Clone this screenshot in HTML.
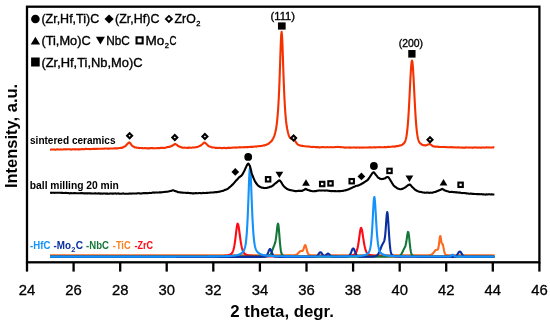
<!DOCTYPE html>
<html><head><meta charset="utf-8"><title>XRD patterns</title>
<style>
html,body{margin:0;padding:0;background:#fff;}
svg{display:block;font-family:"Liberation Sans",sans-serif;}
.c{fill:none;stroke-width:2.1;stroke-linejoin:round;stroke-linecap:butt}
.b{font-weight:bold}
</style></head><body>
<svg width="550" height="327" viewBox="0 0 550 327">
<rect width="550" height="327" fill="#fff"/>
<!-- simulated patterns -->
<path class="c" stroke="#fb6a1e" stroke-width="1.8" d="M50.0,255.3 50.4,255.3 50.8,255.3 51.2,255.3 51.6,255.3 52.0,255.3 52.4,255.3 52.8,255.3 53.2,255.3 53.6,255.3 54.0,255.3 54.4,255.3 54.8,255.3 55.2,255.3 55.6,255.3 56.0,255.3 56.4,255.3 56.8,255.3 57.2,255.3 57.6,255.3 58.0,255.3 58.4,255.3 58.8,255.3 59.2,255.3 59.6,255.3 60.0,255.3 60.4,255.3 60.8,255.3 61.2,255.3 61.6,255.3 62.0,255.3 62.4,255.3 62.8,255.3 63.2,255.3 63.6,255.3 64.0,255.3 64.4,255.3 64.8,255.3 65.2,255.3 65.6,255.3 66.0,255.3 66.4,255.3 66.8,255.3 67.2,255.3 67.6,255.3 68.0,255.3 68.4,255.3 68.8,255.3 69.2,255.3 69.6,255.3 70.0,255.3 70.4,255.3 70.8,255.3 71.2,255.3 71.6,255.3 72.0,255.3 72.4,255.3 72.8,255.3 73.2,255.3 73.6,255.3 74.0,255.3 74.4,255.3 74.8,255.3 75.2,255.3 75.6,255.3 76.0,255.3 76.4,255.3 76.8,255.3 77.2,255.3 77.6,255.3 78.0,255.3 78.4,255.3 78.8,255.3 79.2,255.3 79.6,255.3 80.0,255.3 80.4,255.3 80.8,255.3 81.2,255.3 81.6,255.3 82.0,255.3 82.4,255.3 82.8,255.3 83.2,255.3 83.6,255.3 84.0,255.3 84.4,255.3 84.8,255.3 85.2,255.3 85.6,255.3 86.0,255.3 86.4,255.3 86.8,255.3 87.2,255.3 87.6,255.3 88.0,255.3 88.4,255.3 88.8,255.3 89.2,255.3 89.6,255.3 90.0,255.3 90.4,255.3 90.8,255.3 91.2,255.3 91.6,255.3 92.0,255.3 92.4,255.3 92.8,255.3 93.2,255.3 93.6,255.3 94.0,255.3 94.4,255.3 94.8,255.3 95.2,255.3 95.6,255.3 96.0,255.3 96.4,255.3 96.8,255.3 97.2,255.3 97.6,255.3 98.0,255.3 98.4,255.3 98.8,255.3 99.2,255.3 99.6,255.3 100.0,255.3 100.4,255.3 100.8,255.3 101.2,255.3 101.6,255.3 102.0,255.3 102.4,255.3 102.8,255.3 103.2,255.3 103.6,255.3 104.0,255.3 104.4,255.3 104.8,255.3 105.2,255.3 105.6,255.3 106.0,255.3 106.4,255.3 106.8,255.3 107.2,255.3 107.6,255.3 108.0,255.3 108.4,255.3 108.8,255.3 109.2,255.3 109.6,255.3 110.0,255.3 110.4,255.3 110.8,255.3 111.2,255.3 111.6,255.3 112.0,255.3 112.4,255.3 112.8,255.3 113.2,255.3 113.6,255.3 114.0,255.3 114.4,255.3 114.8,255.3 115.2,255.3 115.6,255.3 116.0,255.3 116.4,255.3 116.8,255.3 117.2,255.3 117.6,255.3 118.0,255.3 118.4,255.3 118.8,255.3 119.2,255.3 119.6,255.3 120.0,255.3 120.4,255.3 120.8,255.3 121.2,255.3 121.6,255.3 122.0,255.3 122.4,255.3 122.8,255.3 123.2,255.3 123.6,255.3 124.0,255.3 124.4,255.3 124.8,255.3 125.2,255.3 125.6,255.3 126.0,255.3 126.4,255.3 126.8,255.3 127.2,255.3 127.6,255.3 128.0,255.3 128.4,255.3 128.8,255.3 129.2,255.3 129.6,255.3 130.0,255.3 130.4,255.3 130.8,255.3 131.2,255.3 131.6,255.3 132.0,255.3 132.4,255.3 132.8,255.3 133.2,255.3 133.6,255.3 134.0,255.3 134.4,255.3 134.8,255.3 135.2,255.3 135.6,255.3 136.0,255.3 136.4,255.3 136.8,255.3 137.2,255.3 137.6,255.3 138.0,255.3 138.4,255.3 138.8,255.3 139.2,255.3 139.6,255.3 140.0,255.3 140.4,255.3 140.8,255.3 141.2,255.3 141.6,255.3 142.0,255.3 142.4,255.3 142.8,255.3 143.2,255.3 143.6,255.3 144.0,255.3 144.4,255.3 144.8,255.3 145.2,255.3 145.6,255.3 146.0,255.3 146.4,255.3 146.8,255.3 147.2,255.3 147.6,255.3 148.0,255.3 148.4,255.3 148.8,255.3 149.2,255.3 149.6,255.3 150.0,255.3 150.4,255.3 150.8,255.3 151.2,255.3 151.6,255.3 152.0,255.3 152.4,255.3 152.8,255.3 153.2,255.3 153.6,255.3 154.0,255.3 154.4,255.3 154.8,255.3 155.2,255.3 155.6,255.3 156.0,255.3 156.4,255.3 156.8,255.3 157.2,255.3 157.6,255.3 158.0,255.3 158.4,255.3 158.8,255.3 159.2,255.3 159.6,255.3 160.0,255.3 160.4,255.3 160.8,255.3 161.2,255.3 161.6,255.3 162.0,255.3 162.4,255.3 162.8,255.3 163.2,255.3 163.6,255.3 164.0,255.3 164.4,255.3 164.8,255.3 165.2,255.3 165.6,255.3 166.0,255.3 166.4,255.3 166.8,255.3 167.2,255.3 167.6,255.3 168.0,255.3 168.4,255.3 168.8,255.3 169.2,255.3 169.6,255.3 170.0,255.3 170.4,255.3 170.8,255.3 171.2,255.3 171.6,255.3 172.0,255.3 172.4,255.3 172.8,255.3 173.2,255.3 173.6,255.3 174.0,255.3 174.4,255.3 174.8,255.3 175.2,255.3 175.6,255.3 176.0,255.3 176.4,255.3 176.8,255.3 177.2,255.3 177.6,255.3 178.0,255.3 178.4,255.3 178.8,255.3 179.2,255.3 179.6,255.3 180.0,255.3 180.4,255.3 180.8,255.3 181.2,255.3 181.6,255.3 182.0,255.3 182.4,255.3 182.8,255.3 183.2,255.3 183.6,255.3 184.0,255.3 184.4,255.3 184.8,255.3 185.2,255.3 185.6,255.3 186.0,255.3 186.4,255.3 186.8,255.3 187.2,255.3 187.6,255.3 188.0,255.3 188.4,255.3 188.8,255.3 189.2,255.3 189.6,255.3 190.0,255.3 190.4,255.3 190.8,255.3 191.2,255.3 191.6,255.3 192.0,255.3 192.4,255.3 192.8,255.3 193.2,255.3 193.6,255.3 194.0,255.3 194.4,255.3 194.8,255.3 195.2,255.3 195.6,255.3 196.0,255.3 196.4,255.3 196.8,255.3 197.2,255.3 197.6,255.3 198.0,255.3 198.4,255.3 198.8,255.3 199.2,255.3 199.6,255.3 200.0,255.3 200.4,255.3 200.8,255.3 201.2,255.3 201.6,255.3 202.0,255.3 202.4,255.3 202.8,255.3 203.2,255.3 203.6,255.3 204.0,255.3 204.4,255.3 204.8,255.3 205.2,255.3 205.6,255.3 206.0,255.3 206.4,255.3 206.8,255.3 207.2,255.3 207.6,255.3 208.0,255.3 208.4,255.3 208.8,255.3 209.2,255.3 209.6,255.3 210.0,255.3 210.4,255.3 210.8,255.3 211.2,255.3 211.6,255.3 212.0,255.3 212.4,255.3 212.8,255.3 213.2,255.3 213.6,255.3 214.0,255.3 214.4,255.3 214.8,255.3 215.2,255.3 215.6,255.3 216.0,255.3 216.4,255.3 216.8,255.3 217.2,255.3 217.6,255.3 218.0,255.3 218.4,255.3 218.8,255.3 219.2,255.3 219.6,255.3 220.0,255.3 220.4,255.3 220.8,255.3 221.2,255.3 221.6,255.3 222.0,255.3 222.4,255.3 222.8,255.3 223.2,255.3 223.6,255.3 224.0,255.3 224.4,255.3 224.8,255.3 225.2,255.3 225.6,255.3 226.0,255.3 226.4,255.3 226.8,255.3 227.2,255.3 227.6,255.3 228.0,255.3 228.4,255.3 228.8,255.3 229.2,255.3 229.6,255.3 230.0,255.3 230.4,255.3 230.8,255.3 231.2,255.3 231.6,255.3 232.0,255.3 232.4,255.3 232.8,255.3 233.2,255.3 233.6,255.3 234.0,255.3 234.4,255.3 234.8,255.3 235.2,255.3 235.6,255.3 236.0,255.3 236.4,255.3 236.8,255.3 237.2,255.3 237.6,255.3 238.0,255.3 238.4,255.3 238.8,255.3 239.2,255.3 239.6,255.3 240.0,255.3 240.4,255.3 240.8,255.3 241.2,255.3 241.6,255.3 242.0,255.3 242.4,255.3 242.8,255.3 243.2,255.3 243.6,255.3 244.0,255.3 244.4,255.3 244.8,255.3 245.2,255.3 245.6,255.3 246.0,255.3 246.4,255.3 246.8,255.3 247.2,255.3 247.6,255.3 248.0,255.3 248.4,255.3 248.8,255.3 249.2,255.3 249.6,255.3 250.0,255.3 250.4,255.3 250.8,255.3 251.2,255.3 251.6,255.3 252.0,255.3 252.4,255.3 252.8,255.3 253.2,255.3 253.6,255.3 254.0,255.3 254.4,255.3 254.8,255.3 255.2,255.3 255.6,255.3 256.0,255.3 256.4,255.3 256.8,255.3 257.2,255.3 257.6,255.3 258.0,255.3 258.4,255.3 258.8,255.3 259.2,255.3 259.6,255.3 260.0,255.3 260.4,255.3 260.8,255.3 261.2,255.3 261.6,255.3 262.0,255.3 262.4,255.3 262.8,255.3 263.2,255.3 263.6,255.3 264.0,255.3 264.4,255.3 264.8,255.3 265.2,255.3 265.6,255.3 266.0,255.3 266.4,255.3 266.8,255.3 267.2,255.3 267.6,255.3 268.0,255.3 268.4,255.3 268.8,255.3 269.2,255.3 269.6,255.3 270.0,255.3 270.4,255.3 270.8,255.3 271.2,255.3 271.6,255.3 272.0,255.3 272.4,255.3 272.8,255.3 273.2,255.3 273.6,255.3 274.0,255.3 274.4,255.3 274.8,255.3 275.2,255.3 275.6,255.3 276.0,255.3 276.4,255.3 276.8,255.3 277.2,255.3 277.6,255.3 278.0,255.3 278.4,255.3 278.8,255.3 279.2,255.3 279.6,255.3 280.0,255.3 280.4,255.3 280.8,255.3 281.2,255.3 281.6,255.3 282.0,255.3 282.4,255.3 282.8,255.3 283.2,255.3 283.6,255.3 284.0,255.3 284.4,255.3 284.8,255.3 285.2,255.3 285.6,255.3 286.0,255.3 286.4,255.3 286.8,255.3 287.2,255.3 287.6,255.3 288.0,255.3 288.4,255.3 288.8,255.3 289.2,255.3 289.6,255.3 290.0,255.3 290.4,255.3 290.8,255.3 291.2,255.3 291.6,255.3 292.0,255.3 292.4,255.3 292.8,255.3 293.2,255.3 293.6,255.2 294.0,255.2 294.4,255.2 294.8,255.1 295.2,255.0 295.6,254.9 296.0,254.8 296.4,254.6 296.8,254.4 297.2,254.1 297.6,253.8 298.0,253.4 298.4,253.0 298.8,252.6 299.2,252.1 299.6,251.7 300.0,251.4 300.4,251.2 300.8,251.0 301.2,250.9 301.6,250.9 302.0,251.0 302.4,251.0 302.8,250.7 303.2,250.0 303.6,249.0 304.0,247.7 304.4,246.3 304.8,245.3 305.2,245.0 305.6,245.6 306.0,246.8 306.4,248.3 306.8,249.9 307.2,251.4 307.6,252.7 308.0,253.6 308.4,254.2 308.8,254.6 309.2,254.8 309.6,255.0 310.0,255.1 310.4,255.1 310.8,255.2 311.2,255.2 311.6,255.2 312.0,255.2 312.4,255.2 312.8,255.2 313.2,255.2 313.6,255.3 314.0,255.3 314.4,255.3 314.8,255.3 315.2,255.3 315.6,255.3 316.0,255.3 316.4,255.3 316.8,255.3 317.2,255.3 317.6,255.3 318.0,255.3 318.4,255.3 318.8,255.3 319.2,255.3 319.6,255.3 320.0,255.3 320.4,255.3 320.8,255.3 321.2,255.3 321.6,255.3 322.0,255.3 322.4,255.3 322.8,255.3 323.2,255.3 323.6,255.3 324.0,255.3 324.4,255.3 324.8,255.3 325.2,255.3 325.6,255.3 326.0,255.3 326.4,255.3 326.8,255.3 327.2,255.3 327.6,255.3 328.0,255.3 328.4,255.3 328.8,255.3 329.2,255.3 329.6,255.3 330.0,255.3 330.4,255.3 330.8,255.3 331.2,255.3 331.6,255.3 332.0,255.3 332.4,255.3 332.8,255.3 333.2,255.3 333.6,255.3 334.0,255.3 334.4,255.3 334.8,255.3 335.2,255.3 335.6,255.3 336.0,255.3 336.4,255.3 336.8,255.3 337.2,255.3 337.6,255.3 338.0,255.3 338.4,255.3 338.8,255.3 339.2,255.3 339.6,255.3 340.0,255.3 340.4,255.3 340.8,255.3 341.2,255.3 341.6,255.3 342.0,255.3 342.4,255.3 342.8,255.3 343.2,255.3 343.6,255.3 344.0,255.3 344.4,255.3 344.8,255.3 345.2,255.3 345.6,255.3 346.0,255.3 346.4,255.3 346.8,255.3 347.2,255.3 347.6,255.3 348.0,255.3 348.4,255.3 348.8,255.3 349.2,255.3 349.6,255.3 350.0,255.3 350.4,255.3 350.8,255.3 351.2,255.3 351.6,255.3 352.0,255.3 352.4,255.3 352.8,255.3 353.2,255.3 353.6,255.3 354.0,255.3 354.4,255.3 354.8,255.3 355.2,255.3 355.6,255.3 356.0,255.3 356.4,255.3 356.8,255.3 357.2,255.3 357.6,255.3 358.0,255.3 358.4,255.3 358.8,255.3 359.2,255.3 359.6,255.3 360.0,255.3 360.4,255.3 360.8,255.3 361.2,255.3 361.6,255.3 362.0,255.3 362.4,255.3 362.8,255.3 363.2,255.3 363.6,255.3 364.0,255.3 364.4,255.3 364.8,255.3 365.2,255.3 365.6,255.3 366.0,255.3 366.4,255.3 366.8,255.3 367.2,255.3 367.6,255.3 368.0,255.3 368.4,255.3 368.8,255.3 369.2,255.3 369.6,255.3 370.0,255.3 370.4,255.3 370.8,255.3 371.2,255.3 371.6,255.3 372.0,255.3 372.4,255.3 372.8,255.3 373.2,255.3 373.6,255.3 374.0,255.3 374.4,255.3 374.8,255.3 375.2,255.3 375.6,255.3 376.0,255.3 376.4,255.3 376.8,255.3 377.2,255.3 377.6,255.3 378.0,255.3 378.4,255.3 378.8,255.3 379.2,255.3 379.6,255.3 380.0,255.3 380.4,255.3 380.8,255.3 381.2,255.3 381.6,255.3 382.0,255.3 382.4,255.3 382.8,255.3 383.2,255.3 383.6,255.3 384.0,255.3 384.4,255.3 384.8,255.3 385.2,255.3 385.6,255.3 386.0,255.3 386.4,255.3 386.8,255.3 387.2,255.3 387.6,255.3 388.0,255.3 388.4,255.3 388.8,255.3 389.2,255.3 389.6,255.3 390.0,255.3 390.4,255.3 390.8,255.3 391.2,255.3 391.6,255.3 392.0,255.3 392.4,255.3 392.8,255.3 393.2,255.3 393.6,255.3 394.0,255.3 394.4,255.3 394.8,255.3 395.2,255.3 395.6,255.3 396.0,255.3 396.4,255.3 396.8,255.3 397.2,255.3 397.6,255.3 398.0,255.3 398.4,255.3 398.8,255.3 399.2,255.3 399.6,255.3 400.0,255.3 400.4,255.3 400.8,255.3 401.2,255.3 401.6,255.3 402.0,255.3 402.4,255.3 402.8,255.3 403.2,255.3 403.6,255.3 404.0,255.3 404.4,255.3 404.8,255.3 405.2,255.3 405.6,255.3 406.0,255.3 406.4,255.3 406.8,255.3 407.2,255.3 407.6,255.3 408.0,255.3 408.4,255.3 408.8,255.3 409.2,255.3 409.6,255.3 410.0,255.3 410.4,255.3 410.8,255.3 411.2,255.3 411.6,255.3 412.0,255.3 412.4,255.3 412.8,255.3 413.2,255.3 413.6,255.3 414.0,255.3 414.4,255.3 414.8,255.3 415.2,255.3 415.6,255.3 416.0,255.3 416.4,255.3 416.8,255.3 417.2,255.3 417.6,255.3 418.0,255.3 418.4,255.3 418.8,255.3 419.2,255.3 419.6,255.3 420.0,255.3 420.4,255.3 420.8,255.3 421.2,255.3 421.6,255.3 422.0,255.3 422.4,255.3 422.8,255.3 423.2,255.3 423.6,255.3 424.0,255.3 424.4,255.3 424.8,255.3 425.2,255.3 425.6,255.3 426.0,255.3 426.4,255.3 426.8,255.3 427.2,255.3 427.6,255.3 428.0,255.2 428.4,255.2 428.8,255.2 429.2,255.2 429.6,255.1 430.0,255.1 430.4,255.0 430.8,254.9 431.2,254.7 431.6,254.5 432.0,254.3 432.4,253.9 432.8,253.6 433.2,253.1 433.6,252.6 434.0,252.1 434.4,251.6 434.8,251.1 435.2,250.6 435.6,250.2 436.0,249.9 436.4,249.8 436.8,249.7 437.2,249.8 437.6,249.7 438.0,249.2 438.4,247.9 438.8,245.6 439.2,242.4 439.6,239.0 440.0,236.5 440.4,236.0 440.8,237.8 441.2,240.6 441.6,242.9 442.0,243.7 442.4,243.8 442.8,244.5 443.2,246.1 443.6,248.1 444.0,250.3 444.4,252.1 444.8,253.4 445.2,254.3 445.6,254.7 446.0,254.9 446.4,255.1 446.8,255.1 447.2,255.1 447.6,255.2 448.0,255.2 448.4,255.2 448.8,255.2 449.2,255.2 449.6,255.2 450.0,255.3 450.4,255.3 450.8,255.3 451.2,255.3 451.6,255.3 452.0,255.3 452.4,255.3 452.8,255.3 453.2,255.3 453.6,255.3 454.0,255.3 454.4,255.3 454.8,255.3 455.2,255.3 455.6,255.3 456.0,255.3 456.4,255.3 456.8,255.3 457.2,255.3 457.6,255.3 458.0,255.3 458.4,255.3 458.8,255.3 459.2,255.3 459.6,255.3 460.0,255.3 460.4,255.3 460.8,255.3 461.2,255.3 461.6,255.3 462.0,255.3 462.4,255.3 462.8,255.3 463.2,255.3 463.6,255.3 464.0,255.3 464.4,255.3 464.8,255.3 465.2,255.3 465.6,255.3 466.0,255.3 466.4,255.3 466.8,255.3 467.2,255.3 467.6,255.3 468.0,255.3 468.4,255.3 468.8,255.3 469.2,255.3 469.6,255.3 470.0,255.3 470.4,255.3 470.8,255.3 471.2,255.3 471.6,255.3 472.0,255.3 472.4,255.3 472.8,255.3 473.2,255.3 473.6,255.3 474.0,255.3 474.4,255.3 474.8,255.3 475.2,255.3 475.6,255.3 476.0,255.3 476.4,255.3 476.8,255.3 477.2,255.3 477.6,255.3 478.0,255.3 478.4,255.3 478.8,255.3 479.2,255.3 479.6,255.3 480.0,255.3 480.4,255.3 480.8,255.3 481.2,255.3 481.6,255.3 482.0,255.3 482.4,255.3 482.8,255.3 483.2,255.3 483.6,255.3 484.0,255.3 484.4,255.3 484.8,255.3 485.2,255.3 485.6,255.3 486.0,255.3 486.4,255.3 486.8,255.3 487.2,255.3 487.6,255.3 488.0,255.3 488.4,255.3 488.8,255.3 489.2,255.3 489.6,255.3 490.0,255.3 490.4,255.3 490.8,255.3 491.2,255.3 491.6,255.3 492.0,255.3 492.4,255.3 492.8,255.3 493.2,255.3 493.6,255.3 494.0,255.3 494.4,255.3"/>
<path class="c" stroke="#ff0a14" d="M50.0,256.6 50.4,256.6 50.8,256.6 51.2,256.6 51.6,256.6 52.0,256.6 52.4,256.6 52.8,256.6 53.2,256.6 53.6,256.6 54.0,256.6 54.4,256.6 54.8,256.6 55.2,256.6 55.6,256.6 56.0,256.6 56.4,256.6 56.8,256.6 57.2,256.6 57.6,256.6 58.0,256.6 58.4,256.6 58.8,256.6 59.2,256.6 59.6,256.6 60.0,256.6 60.4,256.6 60.8,256.6 61.2,256.6 61.6,256.6 62.0,256.6 62.4,256.6 62.8,256.6 63.2,256.6 63.6,256.6 64.0,256.6 64.4,256.6 64.8,256.6 65.2,256.6 65.6,256.6 66.0,256.6 66.4,256.6 66.8,256.6 67.2,256.6 67.6,256.6 68.0,256.6 68.4,256.6 68.8,256.6 69.2,256.6 69.6,256.6 70.0,256.6 70.4,256.6 70.8,256.6 71.2,256.6 71.6,256.6 72.0,256.6 72.4,256.6 72.8,256.6 73.2,256.6 73.6,256.6 74.0,256.6 74.4,256.6 74.8,256.6 75.2,256.6 75.6,256.6 76.0,256.6 76.4,256.6 76.8,256.6 77.2,256.6 77.6,256.6 78.0,256.6 78.4,256.6 78.8,256.6 79.2,256.6 79.6,256.6 80.0,256.6 80.4,256.6 80.8,256.6 81.2,256.6 81.6,256.6 82.0,256.6 82.4,256.6 82.8,256.6 83.2,256.6 83.6,256.6 84.0,256.6 84.4,256.6 84.8,256.6 85.2,256.6 85.6,256.6 86.0,256.6 86.4,256.6 86.8,256.6 87.2,256.6 87.6,256.6 88.0,256.6 88.4,256.6 88.8,256.6 89.2,256.6 89.6,256.6 90.0,256.6 90.4,256.6 90.8,256.6 91.2,256.6 91.6,256.6 92.0,256.6 92.4,256.6 92.8,256.6 93.2,256.6 93.6,256.6 94.0,256.6 94.4,256.6 94.8,256.6 95.2,256.6 95.6,256.6 96.0,256.6 96.4,256.6 96.8,256.6 97.2,256.6 97.6,256.6 98.0,256.6 98.4,256.6 98.8,256.6 99.2,256.6 99.6,256.6 100.0,256.6 100.4,256.6 100.8,256.6 101.2,256.6 101.6,256.6 102.0,256.6 102.4,256.6 102.8,256.6 103.2,256.6 103.6,256.6 104.0,256.6 104.4,256.6 104.8,256.6 105.2,256.6 105.6,256.6 106.0,256.6 106.4,256.6 106.8,256.6 107.2,256.6 107.6,256.6 108.0,256.6 108.4,256.6 108.8,256.6 109.2,256.6 109.6,256.6 110.0,256.6 110.4,256.6 110.8,256.6 111.2,256.6 111.6,256.6 112.0,256.6 112.4,256.6 112.8,256.6 113.2,256.6 113.6,256.6 114.0,256.6 114.4,256.6 114.8,256.6 115.2,256.6 115.6,256.6 116.0,256.6 116.4,256.6 116.8,256.6 117.2,256.6 117.6,256.6 118.0,256.6 118.4,256.6 118.8,256.6 119.2,256.6 119.6,256.6 120.0,256.6 120.4,256.6 120.8,256.6 121.2,256.6 121.6,256.6 122.0,256.6 122.4,256.6 122.8,256.6 123.2,256.6 123.6,256.6 124.0,256.6 124.4,256.6 124.8,256.6 125.2,256.6 125.6,256.6 126.0,256.6 126.4,256.6 126.8,256.6 127.2,256.6 127.6,256.6 128.0,256.6 128.4,256.6 128.8,256.6 129.2,256.6 129.6,256.6 130.0,256.6 130.4,256.6 130.8,256.6 131.2,256.6 131.6,256.6 132.0,256.6 132.4,256.6 132.8,256.6 133.2,256.6 133.6,256.6 134.0,256.6 134.4,256.6 134.8,256.6 135.2,256.6 135.6,256.6 136.0,256.6 136.4,256.6 136.8,256.6 137.2,256.6 137.6,256.6 138.0,256.6 138.4,256.6 138.8,256.6 139.2,256.6 139.6,256.6 140.0,256.6 140.4,256.6 140.8,256.6 141.2,256.6 141.6,256.6 142.0,256.6 142.4,256.6 142.8,256.6 143.2,256.6 143.6,256.6 144.0,256.6 144.4,256.6 144.8,256.6 145.2,256.6 145.6,256.6 146.0,256.6 146.4,256.6 146.8,256.6 147.2,256.6 147.6,256.6 148.0,256.6 148.4,256.6 148.8,256.6 149.2,256.6 149.6,256.6 150.0,256.6 150.4,256.6 150.8,256.6 151.2,256.6 151.6,256.6 152.0,256.6 152.4,256.6 152.8,256.6 153.2,256.6 153.6,256.6 154.0,256.6 154.4,256.6 154.8,256.6 155.2,256.6 155.6,256.6 156.0,256.6 156.4,256.6 156.8,256.6 157.2,256.6 157.6,256.6 158.0,256.6 158.4,256.6 158.8,256.6 159.2,256.6 159.6,256.6 160.0,256.6 160.4,256.6 160.8,256.6 161.2,256.6 161.6,256.6 162.0,256.6 162.4,256.6 162.8,256.6 163.2,256.6 163.6,256.6 164.0,256.6 164.4,256.6 164.8,256.6 165.2,256.6 165.6,256.6 166.0,256.6 166.4,256.6 166.8,256.6 167.2,256.6 167.6,256.6 168.0,256.6 168.4,256.6 168.8,256.6 169.2,256.6 169.6,256.6 170.0,256.6 170.4,256.6 170.8,256.6 171.2,256.6 171.6,256.6 172.0,256.6 172.4,256.6 172.8,256.6 173.2,256.6 173.6,256.6 174.0,256.6 174.4,256.6 174.8,256.6 175.2,256.6 175.6,256.6 176.0,256.6 176.4,256.6 176.8,256.6 177.2,256.6 177.6,256.6 178.0,256.6 178.4,256.6 178.8,256.6 179.2,256.6 179.6,256.6 180.0,256.6 180.4,256.6 180.8,256.6 181.2,256.6 181.6,256.6 182.0,256.6 182.4,256.6 182.8,256.6 183.2,256.6 183.6,256.6 184.0,256.6 184.4,256.6 184.8,256.6 185.2,256.6 185.6,256.6 186.0,256.6 186.4,256.5 186.8,256.5 187.2,256.5 187.6,256.5 188.0,256.5 188.4,256.5 188.8,256.5 189.2,256.5 189.6,256.5 190.0,256.5 190.4,256.5 190.8,256.5 191.2,256.5 191.6,256.5 192.0,256.5 192.4,256.5 192.8,256.5 193.2,256.5 193.6,256.5 194.0,256.5 194.4,256.5 194.8,256.5 195.2,256.5 195.6,256.5 196.0,256.5 196.4,256.5 196.8,256.5 197.2,256.5 197.6,256.5 198.0,256.5 198.4,256.5 198.8,256.5 199.2,256.5 199.6,256.5 200.0,256.5 200.4,256.5 200.8,256.5 201.2,256.5 201.6,256.5 202.0,256.5 202.4,256.5 202.8,256.5 203.2,256.5 203.6,256.5 204.0,256.5 204.4,256.5 204.8,256.5 205.2,256.5 205.6,256.5 206.0,256.5 206.4,256.5 206.8,256.5 207.2,256.5 207.6,256.5 208.0,256.5 208.4,256.5 208.8,256.4 209.2,256.4 209.6,256.4 210.0,256.4 210.4,256.4 210.8,256.4 211.2,256.4 211.6,256.4 212.0,256.4 212.4,256.4 212.8,256.4 213.2,256.4 213.6,256.4 214.0,256.4 214.4,256.4 214.8,256.4 215.2,256.4 215.6,256.3 216.0,256.3 216.4,256.3 216.8,256.3 217.2,256.3 217.6,256.3 218.0,256.3 218.4,256.3 218.8,256.3 219.2,256.2 219.6,256.2 220.0,256.2 220.4,256.2 220.8,256.2 221.2,256.2 221.6,256.1 222.0,256.1 222.4,256.1 222.8,256.1 223.2,256.0 223.6,256.0 224.0,256.0 224.4,255.9 224.8,255.9 225.2,255.8 225.6,255.8 226.0,255.7 226.4,255.7 226.8,255.6 227.2,255.5 227.6,255.5 228.0,255.4 228.4,255.3 228.8,255.1 229.2,255.0 229.6,254.9 230.0,254.7 230.4,254.5 230.8,254.2 231.2,253.9 231.6,253.5 232.0,253.0 232.4,252.4 232.8,251.6 233.2,250.5 233.6,249.2 234.0,247.5 234.4,245.4 234.8,243.0 235.2,240.1 235.6,236.9 236.0,233.5 236.4,230.1 236.8,227.1 237.2,224.8 237.6,223.7 238.0,224.0 238.4,225.4 238.8,227.6 239.2,230.4 239.6,233.5 240.0,236.5 240.4,239.4 240.8,242.1 241.2,244.4 241.6,246.4 242.0,248.1 242.4,249.5 242.8,250.7 243.2,251.6 243.6,252.4 244.0,252.9 244.4,253.4 244.8,253.8 245.2,254.1 245.6,254.3 246.0,254.5 246.4,254.7 246.8,254.9 247.2,255.0 247.6,255.1 248.0,255.2 248.4,255.3 248.8,255.4 249.2,255.5 249.6,255.6 250.0,255.6 250.4,255.7 250.8,255.7 251.2,255.8 251.6,255.8 252.0,255.9 252.4,255.9 252.8,255.9 253.2,256.0 253.6,256.0 254.0,256.0 254.4,256.1 254.8,256.1 255.2,256.1 255.6,256.1 256.0,256.1 256.4,256.2 256.8,256.2 257.2,256.2 257.6,256.2 258.0,256.2 258.4,256.2 258.8,256.2 259.2,256.3 259.6,256.3 260.0,256.3 260.4,256.3 260.8,256.3 261.2,256.3 261.6,256.3 262.0,256.3 262.4,256.3 262.8,256.3 263.2,256.4 263.6,256.4 264.0,256.4 264.4,256.4 264.8,256.4 265.2,256.4 265.6,256.4 266.0,256.4 266.4,256.4 266.8,256.4 267.2,256.4 267.6,256.4 268.0,256.4 268.4,256.4 268.8,256.4 269.2,256.4 269.6,256.4 270.0,256.4 270.4,256.4 270.8,256.4 271.2,256.4 271.6,256.5 272.0,256.5 272.4,256.5 272.8,256.5 273.2,256.5 273.6,256.5 274.0,256.5 274.4,256.5 274.8,256.5 275.2,256.5 275.6,256.5 276.0,256.5 276.4,256.5 276.8,256.5 277.2,256.5 277.6,256.5 278.0,256.5 278.4,256.5 278.8,256.5 279.2,256.5 279.6,256.5 280.0,256.5 280.4,256.5 280.8,256.5 281.2,256.5 281.6,256.5 282.0,256.5 282.4,256.5 282.8,256.5 283.2,256.5 283.6,256.5 284.0,256.5 284.4,256.5 284.8,256.5 285.2,256.5 285.6,256.5 286.0,256.5 286.4,256.5 286.8,256.5 287.2,256.5 287.6,256.5 288.0,256.5 288.4,256.5 288.8,256.5 289.2,256.5 289.6,256.5 290.0,256.5 290.4,256.5 290.8,256.5 291.2,256.5 291.6,256.5 292.0,256.5 292.4,256.5 292.8,256.5 293.2,256.5 293.6,256.5 294.0,256.5 294.4,256.5 294.8,256.5 295.2,256.5 295.6,256.5 296.0,256.5 296.4,256.5 296.8,256.5 297.2,256.5 297.6,256.5 298.0,256.5 298.4,256.5 298.8,256.5 299.2,256.5 299.6,256.5 300.0,256.5 300.4,256.5 300.8,256.5 301.2,256.5 301.6,256.5 302.0,256.5 302.4,256.5 302.8,256.5 303.2,256.5 303.6,256.5 304.0,256.5 304.4,256.5 304.8,256.5 305.2,256.5 305.6,256.5 306.0,256.5 306.4,256.5 306.8,256.5 307.2,256.5 307.6,256.5 308.0,256.5 308.4,256.5 308.8,256.5 309.2,256.5 309.6,256.5 310.0,256.5 310.4,256.5 310.8,256.5 311.2,256.5 311.6,256.5 312.0,256.5 312.4,256.5 312.8,256.5 313.2,256.5 313.6,256.5 314.0,256.5 314.4,256.5 314.8,256.5 315.2,256.5 315.6,256.5 316.0,256.5 316.4,256.5 316.8,256.5 317.2,256.5 317.6,256.5 318.0,256.5 318.4,256.5 318.8,256.5 319.2,256.5 319.6,256.5 320.0,256.5 320.4,256.5 320.8,256.5 321.2,256.5 321.6,256.5 322.0,256.5 322.4,256.5 322.8,256.5 323.2,256.5 323.6,256.5 324.0,256.5 324.4,256.5 324.8,256.5 325.2,256.5 325.6,256.5 326.0,256.5 326.4,256.5 326.8,256.5 327.2,256.5 327.6,256.5 328.0,256.5 328.4,256.5 328.8,256.5 329.2,256.5 329.6,256.5 330.0,256.5 330.4,256.5 330.8,256.5 331.2,256.5 331.6,256.5 332.0,256.5 332.4,256.5 332.8,256.4 333.2,256.4 333.6,256.4 334.0,256.4 334.4,256.4 334.8,256.4 335.2,256.4 335.6,256.4 336.0,256.4 336.4,256.4 336.8,256.4 337.2,256.4 337.6,256.4 338.0,256.4 338.4,256.4 338.8,256.4 339.2,256.4 339.6,256.4 340.0,256.3 340.4,256.3 340.8,256.3 341.2,256.3 341.6,256.3 342.0,256.3 342.4,256.3 342.8,256.3 343.2,256.3 343.6,256.2 344.0,256.2 344.4,256.2 344.8,256.2 345.2,256.2 345.6,256.1 346.0,256.1 346.4,256.1 346.8,256.1 347.2,256.0 347.6,256.0 348.0,256.0 348.4,255.9 348.8,255.9 349.2,255.9 349.6,255.8 350.0,255.8 350.4,255.7 350.8,255.6 351.2,255.6 351.6,255.5 352.0,255.4 352.4,255.3 352.8,255.1 353.2,255.0 353.6,254.8 354.0,254.6 354.4,254.4 354.8,254.1 355.2,253.7 355.6,253.2 356.0,252.6 356.4,251.8 356.8,250.8 357.2,249.4 357.6,247.8 358.0,245.8 358.4,243.5 358.8,240.9 359.2,238.0 359.6,235.0 360.0,232.1 360.4,229.7 360.8,228.2 361.2,227.9 361.6,228.7 362.0,230.3 362.4,232.5 362.8,235.1 363.2,237.8 363.6,240.4 364.0,242.8 364.4,245.0 364.8,246.9 365.2,248.5 365.6,249.9 366.0,251.0 366.4,251.9 366.8,252.6 367.2,253.2 367.6,253.6 368.0,254.0 368.4,254.3 368.8,254.5 369.2,254.7 369.6,254.9 370.0,255.0 370.4,255.2 370.8,255.3 371.2,255.4 371.6,255.4 372.0,255.5 372.4,255.6 372.8,255.7 373.2,255.7 373.6,255.8 374.0,255.8 374.4,255.9 374.8,255.9 375.2,255.9 375.6,256.0 376.0,256.0 376.4,256.0 376.8,256.1 377.2,256.1 377.6,256.1 378.0,256.1 378.4,256.2 378.8,256.2 379.2,256.2 379.6,256.2 380.0,256.2 380.4,256.2 380.8,256.3 381.2,256.3 381.6,256.3 382.0,256.3 382.4,256.3 382.8,256.3 383.2,256.3 383.6,256.3 384.0,256.3 384.4,256.3 384.8,256.4 385.2,256.4 385.6,256.4 386.0,256.4 386.4,256.4 386.8,256.4 387.2,256.4 387.6,256.4 388.0,256.4 388.4,256.4 388.8,256.4 389.2,256.4 389.6,256.4 390.0,256.4 390.4,256.4 390.8,256.4 391.2,256.4 391.6,256.4 392.0,256.5 392.4,256.5 392.8,256.5 393.2,256.5 393.6,256.5 394.0,256.5 394.4,256.5 394.8,256.5 395.2,256.5 395.6,256.5 396.0,256.5 396.4,256.5 396.8,256.5 397.2,256.5 397.6,256.5 398.0,256.5 398.4,256.5 398.8,256.5 399.2,256.5 399.6,256.5 400.0,256.5 400.4,256.5 400.8,256.5 401.2,256.5 401.6,256.5 402.0,256.5 402.4,256.5 402.8,256.5 403.2,256.5 403.6,256.5 404.0,256.5 404.4,256.5 404.8,256.5 405.2,256.5 405.6,256.5 406.0,256.5 406.4,256.5 406.8,256.5 407.2,256.5 407.6,256.5 408.0,256.5 408.4,256.5 408.8,256.5 409.2,256.5 409.6,256.5 410.0,256.5 410.4,256.5 410.8,256.5 411.2,256.5 411.6,256.5 412.0,256.5 412.4,256.5 412.8,256.5 413.2,256.5 413.6,256.5 414.0,256.5 414.4,256.5 414.8,256.5 415.2,256.5 415.6,256.5 416.0,256.6 416.4,256.6 416.8,256.6 417.2,256.6 417.6,256.6 418.0,256.6 418.4,256.6 418.8,256.6 419.2,256.6 419.6,256.6 420.0,256.6 420.4,256.6 420.8,256.6 421.2,256.6 421.6,256.6 422.0,256.6 422.4,256.6 422.8,256.6 423.2,256.6 423.6,256.6 424.0,256.6 424.4,256.6 424.8,256.6 425.2,256.6 425.6,256.6 426.0,256.6 426.4,256.6 426.8,256.6 427.2,256.6 427.6,256.6 428.0,256.6 428.4,256.6 428.8,256.6 429.2,256.6 429.6,256.6 430.0,256.6 430.4,256.6 430.8,256.6 431.2,256.6 431.6,256.6 432.0,256.6 432.4,256.6 432.8,256.6 433.2,256.6 433.6,256.6 434.0,256.6 434.4,256.6 434.8,256.6 435.2,256.6 435.6,256.6 436.0,256.6 436.4,256.6 436.8,256.6 437.2,256.6 437.6,256.6 438.0,256.6 438.4,256.6 438.8,256.6 439.2,256.6 439.6,256.6 440.0,256.6 440.4,256.6 440.8,256.6 441.2,256.6 441.6,256.6 442.0,256.6 442.4,256.6 442.8,256.6 443.2,256.6 443.6,256.6 444.0,256.6 444.4,256.6 444.8,256.6 445.2,256.6 445.6,256.6 446.0,256.6 446.4,256.6 446.8,256.6 447.2,256.6 447.6,256.6 448.0,256.6 448.4,256.6 448.8,256.6 449.2,256.6 449.6,256.6 450.0,256.6 450.4,256.6 450.8,256.6 451.2,256.6 451.6,256.6 452.0,256.6 452.4,256.6 452.8,256.6 453.2,256.6 453.6,256.6 454.0,256.6 454.4,256.6 454.8,256.6 455.2,256.6 455.6,256.6 456.0,256.6 456.4,256.6 456.8,256.6 457.2,256.6 457.6,256.6 458.0,256.6 458.4,256.6 458.8,256.6 459.2,256.6 459.6,256.6 460.0,256.6 460.4,256.6 460.8,256.6 461.2,256.6 461.6,256.6 462.0,256.6 462.4,256.6 462.8,256.6 463.2,256.6 463.6,256.6 464.0,256.6 464.4,256.6 464.8,256.6 465.2,256.6 465.6,256.6 466.0,256.6 466.4,256.6 466.8,256.6 467.2,256.6 467.6,256.6 468.0,256.6 468.4,256.6 468.8,256.6 469.2,256.6 469.6,256.6 470.0,256.6 470.4,256.6 470.8,256.6 471.2,256.6 471.6,256.6 472.0,256.6 472.4,256.6 472.8,256.6 473.2,256.6 473.6,256.6 474.0,256.6 474.4,256.6 474.8,256.6 475.2,256.6 475.6,256.6 476.0,256.6 476.4,256.6 476.8,256.6 477.2,256.6 477.6,256.6 478.0,256.6 478.4,256.6 478.8,256.6 479.2,256.6 479.6,256.6 480.0,256.6 480.4,256.6 480.8,256.6 481.2,256.6 481.6,256.6 482.0,256.6 482.4,256.6 482.8,256.6 483.2,256.6 483.6,256.6 484.0,256.6 484.4,256.6 484.8,256.6 485.2,256.6 485.6,256.6 486.0,256.6 486.4,256.6 486.8,256.6 487.2,256.6 487.6,256.6 488.0,256.6 488.4,256.6 488.8,256.6 489.2,256.6 489.6,256.6 490.0,256.6 490.4,256.6 490.8,256.6 491.2,256.6 491.6,256.6 492.0,256.6 492.4,256.6 492.8,256.6 493.2,256.6 493.6,256.6 494.0,256.6 494.4,256.6"/>
<path class="c" stroke="#16763a" d="M50.0,256.6 50.4,256.6 50.8,256.6 51.2,256.6 51.6,256.6 52.0,256.6 52.4,256.6 52.8,256.6 53.2,256.6 53.6,256.6 54.0,256.6 54.4,256.6 54.8,256.6 55.2,256.6 55.6,256.6 56.0,256.6 56.4,256.6 56.8,256.6 57.2,256.6 57.6,256.6 58.0,256.6 58.4,256.6 58.8,256.6 59.2,256.6 59.6,256.6 60.0,256.6 60.4,256.6 60.8,256.6 61.2,256.6 61.6,256.6 62.0,256.6 62.4,256.6 62.8,256.6 63.2,256.6 63.6,256.6 64.0,256.6 64.4,256.6 64.8,256.6 65.2,256.6 65.6,256.6 66.0,256.6 66.4,256.6 66.8,256.6 67.2,256.6 67.6,256.6 68.0,256.6 68.4,256.6 68.8,256.6 69.2,256.6 69.6,256.6 70.0,256.6 70.4,256.6 70.8,256.6 71.2,256.6 71.6,256.6 72.0,256.6 72.4,256.6 72.8,256.6 73.2,256.6 73.6,256.6 74.0,256.6 74.4,256.6 74.8,256.6 75.2,256.6 75.6,256.6 76.0,256.6 76.4,256.6 76.8,256.6 77.2,256.6 77.6,256.6 78.0,256.6 78.4,256.6 78.8,256.6 79.2,256.6 79.6,256.6 80.0,256.6 80.4,256.6 80.8,256.6 81.2,256.6 81.6,256.6 82.0,256.6 82.4,256.6 82.8,256.6 83.2,256.6 83.6,256.6 84.0,256.6 84.4,256.6 84.8,256.6 85.2,256.6 85.6,256.6 86.0,256.6 86.4,256.6 86.8,256.6 87.2,256.6 87.6,256.6 88.0,256.6 88.4,256.6 88.8,256.6 89.2,256.6 89.6,256.6 90.0,256.6 90.4,256.6 90.8,256.6 91.2,256.6 91.6,256.6 92.0,256.6 92.4,256.6 92.8,256.6 93.2,256.6 93.6,256.6 94.0,256.6 94.4,256.6 94.8,256.6 95.2,256.6 95.6,256.6 96.0,256.6 96.4,256.6 96.8,256.6 97.2,256.6 97.6,256.6 98.0,256.6 98.4,256.6 98.8,256.6 99.2,256.6 99.6,256.6 100.0,256.6 100.4,256.6 100.8,256.6 101.2,256.6 101.6,256.6 102.0,256.6 102.4,256.6 102.8,256.6 103.2,256.6 103.6,256.6 104.0,256.6 104.4,256.6 104.8,256.6 105.2,256.6 105.6,256.6 106.0,256.6 106.4,256.6 106.8,256.6 107.2,256.6 107.6,256.6 108.0,256.6 108.4,256.6 108.8,256.6 109.2,256.6 109.6,256.6 110.0,256.6 110.4,256.6 110.8,256.6 111.2,256.6 111.6,256.6 112.0,256.6 112.4,256.6 112.8,256.6 113.2,256.6 113.6,256.6 114.0,256.6 114.4,256.6 114.8,256.6 115.2,256.6 115.6,256.6 116.0,256.6 116.4,256.6 116.8,256.6 117.2,256.6 117.6,256.6 118.0,256.6 118.4,256.6 118.8,256.6 119.2,256.6 119.6,256.6 120.0,256.6 120.4,256.6 120.8,256.6 121.2,256.6 121.6,256.6 122.0,256.6 122.4,256.6 122.8,256.6 123.2,256.6 123.6,256.6 124.0,256.6 124.4,256.6 124.8,256.6 125.2,256.6 125.6,256.6 126.0,256.6 126.4,256.6 126.8,256.6 127.2,256.6 127.6,256.6 128.0,256.6 128.4,256.6 128.8,256.6 129.2,256.6 129.6,256.6 130.0,256.6 130.4,256.6 130.8,256.6 131.2,256.6 131.6,256.6 132.0,256.6 132.4,256.6 132.8,256.6 133.2,256.6 133.6,256.6 134.0,256.6 134.4,256.6 134.8,256.6 135.2,256.6 135.6,256.6 136.0,256.6 136.4,256.6 136.8,256.6 137.2,256.6 137.6,256.6 138.0,256.6 138.4,256.6 138.8,256.6 139.2,256.6 139.6,256.6 140.0,256.6 140.4,256.6 140.8,256.6 141.2,256.6 141.6,256.6 142.0,256.6 142.4,256.6 142.8,256.6 143.2,256.6 143.6,256.6 144.0,256.6 144.4,256.6 144.8,256.6 145.2,256.6 145.6,256.6 146.0,256.6 146.4,256.6 146.8,256.6 147.2,256.6 147.6,256.6 148.0,256.6 148.4,256.6 148.8,256.6 149.2,256.6 149.6,256.6 150.0,256.6 150.4,256.6 150.8,256.6 151.2,256.6 151.6,256.6 152.0,256.6 152.4,256.6 152.8,256.6 153.2,256.6 153.6,256.6 154.0,256.6 154.4,256.6 154.8,256.6 155.2,256.6 155.6,256.6 156.0,256.6 156.4,256.6 156.8,256.6 157.2,256.6 157.6,256.6 158.0,256.6 158.4,256.6 158.8,256.6 159.2,256.6 159.6,256.6 160.0,256.6 160.4,256.6 160.8,256.6 161.2,256.6 161.6,256.6 162.0,256.6 162.4,256.6 162.8,256.6 163.2,256.6 163.6,256.6 164.0,256.6 164.4,256.6 164.8,256.6 165.2,256.6 165.6,256.6 166.0,256.6 166.4,256.6 166.8,256.6 167.2,256.6 167.6,256.6 168.0,256.6 168.4,256.6 168.8,256.6 169.2,256.6 169.6,256.6 170.0,256.6 170.4,256.6 170.8,256.6 171.2,256.6 171.6,256.6 172.0,256.6 172.4,256.6 172.8,256.6 173.2,256.6 173.6,256.6 174.0,256.6 174.4,256.6 174.8,256.6 175.2,256.6 175.6,256.6 176.0,256.6 176.4,256.6 176.8,256.6 177.2,256.6 177.6,256.6 178.0,256.6 178.4,256.6 178.8,256.6 179.2,256.6 179.6,256.6 180.0,256.6 180.4,256.6 180.8,256.6 181.2,256.6 181.6,256.6 182.0,256.6 182.4,256.6 182.8,256.6 183.2,256.6 183.6,256.6 184.0,256.6 184.4,256.6 184.8,256.6 185.2,256.6 185.6,256.6 186.0,256.6 186.4,256.6 186.8,256.6 187.2,256.6 187.6,256.6 188.0,256.6 188.4,256.6 188.8,256.6 189.2,256.6 189.6,256.6 190.0,256.6 190.4,256.6 190.8,256.6 191.2,256.6 191.6,256.6 192.0,256.6 192.4,256.6 192.8,256.6 193.2,256.6 193.6,256.6 194.0,256.6 194.4,256.6 194.8,256.6 195.2,256.6 195.6,256.6 196.0,256.6 196.4,256.6 196.8,256.6 197.2,256.6 197.6,256.6 198.0,256.6 198.4,256.6 198.8,256.6 199.2,256.6 199.6,256.6 200.0,256.6 200.4,256.6 200.8,256.6 201.2,256.6 201.6,256.6 202.0,256.6 202.4,256.6 202.8,256.6 203.2,256.6 203.6,256.6 204.0,256.6 204.4,256.6 204.8,256.6 205.2,256.6 205.6,256.6 206.0,256.6 206.4,256.6 206.8,256.6 207.2,256.6 207.6,256.6 208.0,256.6 208.4,256.6 208.8,256.6 209.2,256.6 209.6,256.6 210.0,256.6 210.4,256.6 210.8,256.6 211.2,256.6 211.6,256.6 212.0,256.6 212.4,256.6 212.8,256.6 213.2,256.6 213.6,256.6 214.0,256.6 214.4,256.6 214.8,256.6 215.2,256.6 215.6,256.6 216.0,256.6 216.4,256.6 216.8,256.6 217.2,256.6 217.6,256.6 218.0,256.6 218.4,256.6 218.8,256.6 219.2,256.6 219.6,256.6 220.0,256.6 220.4,256.6 220.8,256.6 221.2,256.6 221.6,256.6 222.0,256.6 222.4,256.6 222.8,256.6 223.2,256.6 223.6,256.6 224.0,256.6 224.4,256.6 224.8,256.6 225.2,256.6 225.6,256.6 226.0,256.6 226.4,256.6 226.8,256.6 227.2,256.6 227.6,256.6 228.0,256.6 228.4,256.6 228.8,256.6 229.2,256.6 229.6,256.6 230.0,256.6 230.4,256.6 230.8,256.6 231.2,256.6 231.6,256.6 232.0,256.6 232.4,256.6 232.8,256.6 233.2,256.6 233.6,256.6 234.0,256.6 234.4,256.6 234.8,256.6 235.2,256.6 235.6,256.6 236.0,256.6 236.4,256.6 236.8,256.6 237.2,256.6 237.6,256.6 238.0,256.6 238.4,256.6 238.8,256.6 239.2,256.6 239.6,256.6 240.0,256.6 240.4,256.6 240.8,256.6 241.2,256.6 241.6,256.6 242.0,256.6 242.4,256.6 242.8,256.6 243.2,256.6 243.6,256.6 244.0,256.6 244.4,256.6 244.8,256.6 245.2,256.6 245.6,256.6 246.0,256.6 246.4,256.6 246.8,256.6 247.2,256.6 247.6,256.6 248.0,256.6 248.4,256.6 248.8,256.6 249.2,256.6 249.6,256.6 250.0,256.6 250.4,256.6 250.8,256.6 251.2,256.6 251.6,256.6 252.0,256.6 252.4,256.6 252.8,256.6 253.2,256.5 253.6,256.5 254.0,256.5 254.4,256.5 254.8,256.5 255.2,256.5 255.6,256.5 256.0,256.5 256.4,256.5 256.8,256.5 257.2,256.5 257.6,256.5 258.0,256.5 258.4,256.5 258.8,256.5 259.2,256.5 259.6,256.5 260.0,256.5 260.4,256.5 260.8,256.5 261.2,256.5 261.6,256.5 262.0,256.5 262.4,256.5 262.8,256.5 263.2,256.5 263.6,256.4 264.0,256.4 264.4,256.4 264.8,256.4 265.2,256.4 265.6,256.4 266.0,256.4 266.4,256.3 266.8,256.3 267.2,256.3 267.6,256.2 268.0,256.2 268.4,256.1 268.8,255.9 269.2,255.7 269.6,255.4 270.0,255.1 270.4,254.6 270.8,253.9 271.2,253.2 271.6,252.3 272.0,251.2 272.4,250.1 272.8,249.0 273.2,247.9 273.6,246.8 274.0,245.8 274.4,244.8 274.8,243.7 275.2,242.4 275.6,240.7 276.0,238.2 276.4,235.1 276.8,231.4 277.2,227.7 277.6,224.8 278.0,223.7 278.4,224.9 278.8,228.4 279.2,233.1 279.6,238.3 280.0,243.1 280.4,247.1 280.8,250.2 281.2,252.4 281.6,253.8 282.0,254.7 282.4,255.2 282.8,255.5 283.2,255.7 283.6,255.9 284.0,255.9 284.4,256.0 284.8,256.1 285.2,256.1 285.6,256.2 286.0,256.2 286.4,256.3 286.8,256.3 287.2,256.3 287.6,256.3 288.0,256.4 288.4,256.4 288.8,256.4 289.2,256.4 289.6,256.4 290.0,256.4 290.4,256.4 290.8,256.4 291.2,256.5 291.6,256.5 292.0,256.5 292.4,256.5 292.8,256.5 293.2,256.5 293.6,256.5 294.0,256.5 294.4,256.5 294.8,256.5 295.2,256.5 295.6,256.5 296.0,256.5 296.4,256.5 296.8,256.5 297.2,256.5 297.6,256.5 298.0,256.5 298.4,256.5 298.8,256.5 299.2,256.5 299.6,256.5 300.0,256.5 300.4,256.5 300.8,256.5 301.2,256.5 301.6,256.6 302.0,256.6 302.4,256.6 302.8,256.6 303.2,256.6 303.6,256.6 304.0,256.6 304.4,256.6 304.8,256.6 305.2,256.6 305.6,256.6 306.0,256.6 306.4,256.6 306.8,256.6 307.2,256.6 307.6,256.6 308.0,256.6 308.4,256.6 308.8,256.6 309.2,256.6 309.6,256.6 310.0,256.6 310.4,256.6 310.8,256.6 311.2,256.6 311.6,256.6 312.0,256.6 312.4,256.6 312.8,256.6 313.2,256.6 313.6,256.6 314.0,256.6 314.4,256.6 314.8,256.6 315.2,256.6 315.6,256.6 316.0,256.6 316.4,256.6 316.8,256.6 317.2,256.6 317.6,256.6 318.0,256.6 318.4,256.6 318.8,256.6 319.2,256.6 319.6,256.6 320.0,256.6 320.4,256.6 320.8,256.6 321.2,256.6 321.6,256.6 322.0,256.6 322.4,256.6 322.8,256.6 323.2,256.6 323.6,256.6 324.0,256.6 324.4,256.6 324.8,256.6 325.2,256.6 325.6,256.6 326.0,256.6 326.4,256.6 326.8,256.6 327.2,256.6 327.6,256.6 328.0,256.6 328.4,256.6 328.8,256.6 329.2,256.6 329.6,256.6 330.0,256.6 330.4,256.6 330.8,256.6 331.2,256.6 331.6,256.6 332.0,256.6 332.4,256.6 332.8,256.6 333.2,256.6 333.6,256.6 334.0,256.6 334.4,256.6 334.8,256.6 335.2,256.6 335.6,256.6 336.0,256.6 336.4,256.6 336.8,256.6 337.2,256.6 337.6,256.6 338.0,256.6 338.4,256.6 338.8,256.6 339.2,256.6 339.6,256.6 340.0,256.6 340.4,256.6 340.8,256.6 341.2,256.6 341.6,256.6 342.0,256.6 342.4,256.6 342.8,256.6 343.2,256.6 343.6,256.6 344.0,256.6 344.4,256.6 344.8,256.6 345.2,256.6 345.6,256.6 346.0,256.6 346.4,256.6 346.8,256.6 347.2,256.6 347.6,256.6 348.0,256.6 348.4,256.6 348.8,256.6 349.2,256.6 349.6,256.6 350.0,256.6 350.4,256.6 350.8,256.6 351.2,256.6 351.6,256.6 352.0,256.6 352.4,256.6 352.8,256.6 353.2,256.6 353.6,256.6 354.0,256.6 354.4,256.6 354.8,256.6 355.2,256.6 355.6,256.6 356.0,256.6 356.4,256.6 356.8,256.6 357.2,256.6 357.6,256.6 358.0,256.6 358.4,256.6 358.8,256.6 359.2,256.6 359.6,256.6 360.0,256.6 360.4,256.6 360.8,256.6 361.2,256.6 361.6,256.6 362.0,256.6 362.4,256.6 362.8,256.6 363.2,256.6 363.6,256.6 364.0,256.6 364.4,256.6 364.8,256.6 365.2,256.6 365.6,256.6 366.0,256.6 366.4,256.6 366.8,256.6 367.2,256.6 367.6,256.6 368.0,256.6 368.4,256.6 368.8,256.6 369.2,256.6 369.6,256.6 370.0,256.6 370.4,256.6 370.8,256.6 371.2,256.6 371.6,256.6 372.0,256.6 372.4,256.6 372.8,256.6 373.2,256.6 373.6,256.6 374.0,256.6 374.4,256.6 374.8,256.6 375.2,256.6 375.6,256.6 376.0,256.6 376.4,256.6 376.8,256.6 377.2,256.6 377.6,256.6 378.0,256.6 378.4,256.6 378.8,256.6 379.2,256.6 379.6,256.6 380.0,256.6 380.4,256.6 380.8,256.6 381.2,256.6 381.6,256.6 382.0,256.6 382.4,256.6 382.8,256.6 383.2,256.6 383.6,256.6 384.0,256.6 384.4,256.6 384.8,256.6 385.2,256.6 385.6,256.6 386.0,256.6 386.4,256.6 386.8,256.5 387.2,256.5 387.6,256.5 388.0,256.5 388.4,256.5 388.8,256.5 389.2,256.5 389.6,256.5 390.0,256.5 390.4,256.5 390.8,256.5 391.2,256.5 391.6,256.5 392.0,256.5 392.4,256.5 392.8,256.5 393.2,256.5 393.6,256.5 394.0,256.5 394.4,256.5 394.8,256.5 395.2,256.5 395.6,256.4 396.0,256.4 396.4,256.4 396.8,256.4 397.2,256.4 397.6,256.4 398.0,256.3 398.4,256.3 398.8,256.2 399.2,256.1 399.6,255.9 400.0,255.7 400.4,255.4 400.8,255.0 401.2,254.5 401.6,253.8 402.0,253.1 402.4,252.2 402.8,251.3 403.2,250.4 403.6,249.6 404.0,248.8 404.4,248.1 404.8,247.4 405.2,246.5 405.6,245.3 406.0,243.6 406.4,241.3 406.8,238.6 407.2,235.7 407.6,233.2 408.0,231.9 408.4,232.3 408.8,234.5 409.2,237.9 409.6,241.8 410.0,245.5 410.4,248.7 410.8,251.2 411.2,253.0 411.6,254.2 412.0,255.0 412.4,255.5 412.8,255.7 413.2,255.9 413.6,256.0 414.0,256.1 414.4,256.2 414.8,256.2 415.2,256.2 415.6,256.3 416.0,256.3 416.4,256.3 416.8,256.4 417.2,256.4 417.6,256.4 418.0,256.4 418.4,256.4 418.8,256.4 419.2,256.4 419.6,256.5 420.0,256.5 420.4,256.5 420.8,256.5 421.2,256.5 421.6,256.5 422.0,256.5 422.4,256.5 422.8,256.5 423.2,256.5 423.6,256.5 424.0,256.5 424.4,256.5 424.8,256.5 425.2,256.5 425.6,256.5 426.0,256.5 426.4,256.5 426.8,256.5 427.2,256.5 427.6,256.5 428.0,256.5 428.4,256.6 428.8,256.6 429.2,256.6 429.6,256.6 430.0,256.6 430.4,256.6 430.8,256.6 431.2,256.6 431.6,256.6 432.0,256.6 432.4,256.6 432.8,256.6 433.2,256.6 433.6,256.6 434.0,256.6 434.4,256.6 434.8,256.6 435.2,256.6 435.6,256.6 436.0,256.6 436.4,256.6 436.8,256.6 437.2,256.6 437.6,256.6 438.0,256.6 438.4,256.6 438.8,256.6 439.2,256.6 439.6,256.6 440.0,256.6 440.4,256.6 440.8,256.6 441.2,256.6 441.6,256.6 442.0,256.6 442.4,256.6 442.8,256.6 443.2,256.6 443.6,256.6 444.0,256.6 444.4,256.6 444.8,256.6 445.2,256.6 445.6,256.6 446.0,256.6 446.4,256.6 446.8,256.6 447.2,256.6 447.6,256.6 448.0,256.6 448.4,256.6 448.8,256.6 449.2,256.6 449.6,256.6 450.0,256.6 450.4,256.6 450.8,256.6 451.2,256.6 451.6,256.6 452.0,256.6 452.4,256.6 452.8,256.6 453.2,256.6 453.6,256.6 454.0,256.6 454.4,256.6 454.8,256.6 455.2,256.6 455.6,256.6 456.0,256.6 456.4,256.6 456.8,256.6 457.2,256.6 457.6,256.6 458.0,256.6 458.4,256.6 458.8,256.6 459.2,256.6 459.6,256.6 460.0,256.6 460.4,256.6 460.8,256.6 461.2,256.6 461.6,256.6 462.0,256.6 462.4,256.6 462.8,256.6 463.2,256.6 463.6,256.6 464.0,256.6 464.4,256.6 464.8,256.6 465.2,256.6 465.6,256.6 466.0,256.6 466.4,256.6 466.8,256.6 467.2,256.6 467.6,256.6 468.0,256.6 468.4,256.6 468.8,256.6 469.2,256.6 469.6,256.6 470.0,256.6 470.4,256.6 470.8,256.6 471.2,256.6 471.6,256.6 472.0,256.6 472.4,256.6 472.8,256.6 473.2,256.6 473.6,256.6 474.0,256.6 474.4,256.6 474.8,256.6 475.2,256.6 475.6,256.6 476.0,256.6 476.4,256.6 476.8,256.6 477.2,256.6 477.6,256.6 478.0,256.6 478.4,256.6 478.8,256.6 479.2,256.6 479.6,256.6 480.0,256.6 480.4,256.6 480.8,256.6 481.2,256.6 481.6,256.6 482.0,256.6 482.4,256.6 482.8,256.6 483.2,256.6 483.6,256.6 484.0,256.6 484.4,256.6 484.8,256.6 485.2,256.6 485.6,256.6 486.0,256.6 486.4,256.6 486.8,256.6 487.2,256.6 487.6,256.6 488.0,256.6 488.4,256.6 488.8,256.6 489.2,256.6 489.6,256.6 490.0,256.6 490.4,256.6 490.8,256.6 491.2,256.6 491.6,256.6 492.0,256.6 492.4,256.6 492.8,256.6 493.2,256.6 493.6,256.6 494.0,256.6 494.4,256.6"/>
<path class="c" stroke="#0a2fa0" d="M50.0,256.9 50.4,256.9 50.8,256.9 51.2,256.9 51.6,256.9 52.0,256.9 52.4,256.9 52.8,256.9 53.2,256.9 53.6,256.9 54.0,256.9 54.4,256.9 54.8,256.9 55.2,256.9 55.6,256.9 56.0,256.9 56.4,256.9 56.8,256.9 57.2,256.9 57.6,256.9 58.0,256.9 58.4,256.9 58.8,256.9 59.2,256.9 59.6,256.9 60.0,256.9 60.4,256.9 60.8,256.9 61.2,256.9 61.6,256.9 62.0,256.9 62.4,256.9 62.8,256.9 63.2,256.9 63.6,256.9 64.0,256.9 64.4,256.9 64.8,256.9 65.2,256.9 65.6,256.9 66.0,256.9 66.4,256.9 66.8,256.9 67.2,256.9 67.6,256.9 68.0,256.9 68.4,256.9 68.8,256.9 69.2,256.9 69.6,256.9 70.0,256.9 70.4,256.9 70.8,256.9 71.2,256.9 71.6,256.9 72.0,256.9 72.4,256.9 72.8,256.9 73.2,256.9 73.6,256.9 74.0,256.9 74.4,256.9 74.8,256.9 75.2,256.9 75.6,256.9 76.0,256.9 76.4,256.9 76.8,256.9 77.2,256.9 77.6,256.9 78.0,256.9 78.4,256.9 78.8,256.9 79.2,256.9 79.6,256.9 80.0,256.9 80.4,256.9 80.8,256.9 81.2,256.9 81.6,256.9 82.0,256.9 82.4,256.9 82.8,256.9 83.2,256.9 83.6,256.9 84.0,256.9 84.4,256.9 84.8,256.9 85.2,256.9 85.6,256.9 86.0,256.9 86.4,256.9 86.8,256.9 87.2,256.9 87.6,256.9 88.0,256.9 88.4,256.9 88.8,256.9 89.2,256.9 89.6,256.9 90.0,256.9 90.4,256.9 90.8,256.9 91.2,256.9 91.6,256.9 92.0,256.9 92.4,256.9 92.8,256.9 93.2,256.9 93.6,256.9 94.0,256.9 94.4,256.9 94.8,256.9 95.2,256.9 95.6,256.9 96.0,256.9 96.4,256.9 96.8,256.9 97.2,256.9 97.6,256.9 98.0,256.9 98.4,256.9 98.8,256.9 99.2,256.9 99.6,256.9 100.0,256.9 100.4,256.9 100.8,256.9 101.2,256.9 101.6,256.9 102.0,256.9 102.4,256.9 102.8,256.9 103.2,256.9 103.6,256.9 104.0,256.9 104.4,256.9 104.8,256.9 105.2,256.9 105.6,256.9 106.0,256.9 106.4,256.9 106.8,256.9 107.2,256.9 107.6,256.9 108.0,256.9 108.4,256.9 108.8,256.9 109.2,256.9 109.6,256.9 110.0,256.9 110.4,256.9 110.8,256.9 111.2,256.9 111.6,256.9 112.0,256.9 112.4,256.9 112.8,256.9 113.2,256.9 113.6,256.9 114.0,256.9 114.4,256.9 114.8,256.9 115.2,256.9 115.6,256.9 116.0,256.9 116.4,256.9 116.8,256.9 117.2,256.9 117.6,256.9 118.0,256.9 118.4,256.9 118.8,256.9 119.2,256.9 119.6,256.9 120.0,256.9 120.4,256.9 120.8,256.9 121.2,256.9 121.6,256.9 122.0,256.9 122.4,256.9 122.8,256.9 123.2,256.9 123.6,256.9 124.0,256.9 124.4,256.9 124.8,256.9 125.2,256.9 125.6,256.9 126.0,256.9 126.4,256.9 126.8,256.9 127.2,256.9 127.6,256.9 128.0,256.9 128.4,256.9 128.8,256.9 129.2,256.9 129.6,256.9 130.0,256.9 130.4,256.9 130.8,256.9 131.2,256.9 131.6,256.9 132.0,256.9 132.4,256.9 132.8,256.9 133.2,256.9 133.6,256.9 134.0,256.9 134.4,256.9 134.8,256.9 135.2,256.9 135.6,256.9 136.0,256.9 136.4,256.9 136.8,256.9 137.2,256.9 137.6,256.9 138.0,256.9 138.4,256.9 138.8,256.9 139.2,256.9 139.6,256.9 140.0,256.9 140.4,256.9 140.8,256.9 141.2,256.9 141.6,256.9 142.0,256.9 142.4,256.9 142.8,256.9 143.2,256.9 143.6,256.9 144.0,256.9 144.4,256.9 144.8,256.9 145.2,256.9 145.6,256.9 146.0,256.9 146.4,256.9 146.8,256.9 147.2,256.9 147.6,256.9 148.0,256.9 148.4,256.9 148.8,256.9 149.2,256.9 149.6,256.9 150.0,256.9 150.4,256.9 150.8,256.9 151.2,256.9 151.6,256.9 152.0,256.9 152.4,256.9 152.8,256.9 153.2,256.9 153.6,256.9 154.0,256.9 154.4,256.9 154.8,256.9 155.2,256.9 155.6,256.9 156.0,256.9 156.4,256.9 156.8,256.9 157.2,256.9 157.6,256.9 158.0,256.9 158.4,256.9 158.8,256.9 159.2,256.9 159.6,256.9 160.0,256.9 160.4,256.9 160.8,256.9 161.2,256.9 161.6,256.9 162.0,256.9 162.4,256.9 162.8,256.9 163.2,256.9 163.6,256.9 164.0,256.9 164.4,256.9 164.8,256.9 165.2,256.9 165.6,256.9 166.0,256.9 166.4,256.9 166.8,256.9 167.2,256.9 167.6,256.9 168.0,256.9 168.4,256.9 168.8,256.9 169.2,256.9 169.6,256.9 170.0,256.9 170.4,256.9 170.8,256.9 171.2,256.9 171.6,256.9 172.0,256.9 172.4,256.9 172.8,256.9 173.2,256.9 173.6,256.9 174.0,256.9 174.4,256.9 174.8,256.9 175.2,256.9 175.6,256.9 176.0,256.9 176.4,256.9 176.8,256.9 177.2,256.9 177.6,256.9 178.0,256.9 178.4,256.9 178.8,256.9 179.2,256.9 179.6,256.9 180.0,256.9 180.4,256.9 180.8,256.9 181.2,256.9 181.6,256.9 182.0,256.9 182.4,256.9 182.8,256.9 183.2,256.9 183.6,256.9 184.0,256.9 184.4,256.9 184.8,256.9 185.2,256.9 185.6,256.9 186.0,256.9 186.4,256.9 186.8,256.9 187.2,256.9 187.6,256.9 188.0,256.9 188.4,256.9 188.8,256.9 189.2,256.9 189.6,256.9 190.0,256.9 190.4,256.9 190.8,256.9 191.2,256.9 191.6,256.9 192.0,256.9 192.4,256.9 192.8,256.9 193.2,256.9 193.6,256.9 194.0,256.9 194.4,256.9 194.8,256.9 195.2,256.9 195.6,256.9 196.0,256.9 196.4,256.9 196.8,256.9 197.2,256.9 197.6,256.9 198.0,256.9 198.4,256.9 198.8,256.9 199.2,256.9 199.6,256.9 200.0,256.9 200.4,256.9 200.8,256.9 201.2,256.9 201.6,256.9 202.0,256.9 202.4,256.9 202.8,256.9 203.2,256.9 203.6,256.9 204.0,256.9 204.4,256.9 204.8,256.9 205.2,256.9 205.6,256.9 206.0,256.9 206.4,256.9 206.8,256.9 207.2,256.9 207.6,256.9 208.0,256.9 208.4,256.9 208.8,256.9 209.2,256.9 209.6,256.9 210.0,256.9 210.4,256.9 210.8,256.9 211.2,256.9 211.6,256.9 212.0,256.9 212.4,256.9 212.8,256.9 213.2,256.9 213.6,256.9 214.0,256.9 214.4,256.9 214.8,256.9 215.2,256.9 215.6,256.9 216.0,256.9 216.4,256.9 216.8,256.9 217.2,256.9 217.6,256.9 218.0,256.9 218.4,256.9 218.8,256.9 219.2,256.9 219.6,256.9 220.0,256.9 220.4,256.9 220.8,256.9 221.2,256.9 221.6,256.9 222.0,256.9 222.4,256.9 222.8,256.9 223.2,256.9 223.6,256.9 224.0,256.9 224.4,256.9 224.8,256.9 225.2,256.9 225.6,256.9 226.0,256.9 226.4,256.9 226.8,256.9 227.2,256.9 227.6,256.9 228.0,256.9 228.4,256.9 228.8,256.9 229.2,256.9 229.6,256.9 230.0,256.9 230.4,256.9 230.8,256.9 231.2,256.9 231.6,256.9 232.0,256.9 232.4,256.9 232.8,256.9 233.2,256.9 233.6,256.9 234.0,256.9 234.4,256.9 234.8,256.9 235.2,256.9 235.6,256.9 236.0,256.9 236.4,256.9 236.8,256.9 237.2,256.9 237.6,256.9 238.0,256.9 238.4,256.9 238.8,256.9 239.2,256.9 239.6,256.9 240.0,256.9 240.4,256.9 240.8,256.9 241.2,256.9 241.6,256.9 242.0,256.9 242.4,256.9 242.8,256.9 243.2,256.9 243.6,256.9 244.0,256.9 244.4,256.9 244.8,256.9 245.2,256.9 245.6,256.9 246.0,256.9 246.4,256.9 246.8,256.9 247.2,256.9 247.6,256.9 248.0,256.9 248.4,256.9 248.8,256.9 249.2,256.9 249.6,256.9 250.0,256.9 250.4,256.9 250.8,256.9 251.2,256.9 251.6,256.9 252.0,256.9 252.4,256.9 252.8,256.9 253.2,256.9 253.6,256.9 254.0,256.9 254.4,256.9 254.8,256.9 255.2,256.9 255.6,256.9 256.0,256.9 256.4,256.9 256.8,256.9 257.2,256.9 257.6,256.9 258.0,256.9 258.4,256.9 258.8,256.9 259.2,256.9 259.6,256.9 260.0,256.9 260.4,256.9 260.8,256.9 261.2,256.9 261.6,256.9 262.0,256.8 262.4,256.8 262.8,256.8 263.2,256.8 263.6,256.8 264.0,256.8 264.4,256.8 264.8,256.7 265.2,256.6 265.6,256.5 266.0,256.3 266.4,256.0 266.8,255.5 267.2,254.8 267.6,254.0 268.0,252.9 268.4,251.9 268.8,250.8 269.2,249.9 269.6,249.2 270.0,249.0 270.4,249.2 270.8,249.9 271.2,250.8 271.6,251.9 272.0,252.9 272.4,254.0 272.8,254.8 273.2,255.5 273.6,256.0 274.0,256.3 274.4,256.5 274.8,256.6 275.2,256.7 275.6,256.8 276.0,256.8 276.4,256.8 276.8,256.8 277.2,256.8 277.6,256.8 278.0,256.8 278.4,256.9 278.8,256.9 279.2,256.9 279.6,256.9 280.0,256.9 280.4,256.9 280.8,256.9 281.2,256.9 281.6,256.9 282.0,256.9 282.4,256.9 282.8,256.9 283.2,256.9 283.6,256.9 284.0,256.9 284.4,256.9 284.8,256.9 285.2,256.9 285.6,256.9 286.0,256.9 286.4,256.9 286.8,256.9 287.2,256.9 287.6,256.9 288.0,256.9 288.4,256.9 288.8,256.9 289.2,256.9 289.6,256.9 290.0,256.9 290.4,256.9 290.8,256.9 291.2,256.9 291.6,256.9 292.0,256.9 292.4,256.9 292.8,256.9 293.2,256.9 293.6,256.9 294.0,256.9 294.4,256.9 294.8,256.9 295.2,256.9 295.6,256.9 296.0,256.9 296.4,256.9 296.8,256.9 297.2,256.9 297.6,256.9 298.0,256.9 298.4,256.9 298.8,256.9 299.2,256.9 299.6,256.9 300.0,256.9 300.4,256.9 300.8,256.9 301.2,256.9 301.6,256.9 302.0,256.9 302.4,256.9 302.8,256.9 303.2,256.9 303.6,256.9 304.0,256.9 304.4,256.9 304.8,256.9 305.2,256.9 305.6,256.9 306.0,256.9 306.4,256.9 306.8,256.9 307.2,256.9 307.6,256.9 308.0,256.9 308.4,256.9 308.8,256.9 309.2,256.9 309.6,256.9 310.0,256.9 310.4,256.9 310.8,256.9 311.2,256.9 311.6,256.9 312.0,256.9 312.4,256.9 312.8,256.8 313.2,256.8 313.6,256.8 314.0,256.8 314.4,256.8 314.8,256.8 315.2,256.8 315.6,256.7 316.0,256.6 316.4,256.4 316.8,256.2 317.2,255.9 317.6,255.5 318.0,255.0 318.4,254.4 318.8,253.7 319.2,253.1 319.6,252.6 320.0,252.3 320.4,252.2 320.8,252.3 321.2,252.6 321.6,253.1 322.0,253.7 322.4,254.3 322.8,254.9 323.2,255.4 323.6,255.7 324.0,255.9 324.4,256.0 324.8,255.9 325.2,255.7 325.6,255.5 326.0,255.1 326.4,254.7 326.8,254.3 327.2,254.0 327.6,253.7 328.0,253.6 328.4,253.7 328.8,254.0 329.2,254.3 329.6,254.7 330.0,255.2 330.4,255.6 330.8,255.9 331.2,256.2 331.6,256.4 332.0,256.6 332.4,256.7 332.8,256.7 333.2,256.8 333.6,256.8 334.0,256.8 334.4,256.8 334.8,256.8 335.2,256.8 335.6,256.8 336.0,256.8 336.4,256.8 336.8,256.8 337.2,256.8 337.6,256.8 338.0,256.8 338.4,256.8 338.8,256.8 339.2,256.8 339.6,256.8 340.0,256.8 340.4,256.8 340.8,256.8 341.2,256.8 341.6,256.8 342.0,256.8 342.4,256.8 342.8,256.8 343.2,256.8 343.6,256.8 344.0,256.8 344.4,256.8 344.8,256.8 345.2,256.8 345.6,256.8 346.0,256.8 346.4,256.8 346.8,256.8 347.2,256.7 347.6,256.7 348.0,256.6 348.4,256.4 348.8,256.2 349.2,255.9 349.6,255.4 350.0,254.8 350.4,254.1 350.8,253.1 351.2,252.1 351.6,251.0 352.0,250.0 352.4,249.2 352.8,248.6 353.2,248.4 353.6,248.6 354.0,249.2 354.4,250.0 354.8,251.0 355.2,252.1 355.6,253.1 356.0,254.0 356.4,254.8 356.8,255.4 357.2,255.9 357.6,256.2 358.0,256.4 358.4,256.5 358.8,256.6 359.2,256.7 359.6,256.7 360.0,256.7 360.4,256.7 360.8,256.8 361.2,256.8 361.6,256.8 362.0,256.8 362.4,256.8 362.8,256.8 363.2,256.8 363.6,256.8 364.0,256.8 364.4,256.8 364.8,256.8 365.2,256.8 365.6,256.8 366.0,256.8 366.4,256.8 366.8,256.8 367.2,256.7 367.6,256.7 368.0,256.7 368.4,256.7 368.8,256.7 369.2,256.7 369.6,256.7 370.0,256.7 370.4,256.7 370.8,256.7 371.2,256.7 371.6,256.7 372.0,256.6 372.4,256.6 372.8,256.6 373.2,256.6 373.6,256.6 374.0,256.5 374.4,256.5 374.8,256.4 375.2,256.3 375.6,256.2 376.0,256.0 376.4,255.8 376.8,255.6 377.2,255.2 377.6,254.8 378.0,254.3 378.4,253.7 378.8,253.0 379.2,252.2 379.6,251.3 380.0,250.4 380.4,249.3 380.8,248.3 381.2,247.2 381.6,246.2 382.0,245.3 382.4,244.4 382.8,243.7 383.2,243.0 383.6,242.3 384.0,241.5 384.4,240.3 384.8,238.3 385.2,235.1 385.6,230.5 386.0,224.9 386.4,219.0 386.8,214.1 387.2,212.0 387.6,213.4 388.0,217.7 388.4,223.7 388.8,230.3 389.2,236.6 389.6,242.1 390.0,246.5 390.4,249.7 390.8,251.9 391.2,253.4 391.6,254.3 392.0,254.9 392.4,255.3 392.8,255.5 393.2,255.7 393.6,255.9 394.0,256.0 394.4,256.1 394.8,256.1 395.2,256.2 395.6,256.3 396.0,256.3 396.4,256.4 396.8,256.4 397.2,256.5 397.6,256.5 398.0,256.5 398.4,256.5 398.8,256.6 399.2,256.6 399.6,256.6 400.0,256.6 400.4,256.6 400.8,256.7 401.2,256.7 401.6,256.7 402.0,256.7 402.4,256.7 402.8,256.7 403.2,256.7 403.6,256.7 404.0,256.7 404.4,256.7 404.8,256.7 405.2,256.8 405.6,256.8 406.0,256.8 406.4,256.8 406.8,256.8 407.2,256.8 407.6,256.8 408.0,256.8 408.4,256.8 408.8,256.8 409.2,256.8 409.6,256.8 410.0,256.8 410.4,256.8 410.8,256.8 411.2,256.8 411.6,256.8 412.0,256.8 412.4,256.8 412.8,256.8 413.2,256.8 413.6,256.8 414.0,256.8 414.4,256.8 414.8,256.8 415.2,256.8 415.6,256.8 416.0,256.8 416.4,256.8 416.8,256.8 417.2,256.8 417.6,256.8 418.0,256.8 418.4,256.8 418.8,256.9 419.2,256.9 419.6,256.9 420.0,256.9 420.4,256.9 420.8,256.9 421.2,256.9 421.6,256.9 422.0,256.9 422.4,256.9 422.8,256.9 423.2,256.9 423.6,256.9 424.0,256.9 424.4,256.9 424.8,256.9 425.2,256.9 425.6,256.9 426.0,256.9 426.4,256.9 426.8,256.9 427.2,256.9 427.6,256.9 428.0,256.9 428.4,256.9 428.8,256.9 429.2,256.9 429.6,256.9 430.0,256.9 430.4,256.9 430.8,256.9 431.2,256.9 431.6,256.9 432.0,256.9 432.4,256.9 432.8,256.9 433.2,256.9 433.6,256.9 434.0,256.9 434.4,256.9 434.8,256.9 435.2,256.9 435.6,256.9 436.0,256.9 436.4,256.9 436.8,256.9 437.2,256.9 437.6,256.9 438.0,256.9 438.4,256.9 438.8,256.9 439.2,256.9 439.6,256.9 440.0,256.9 440.4,256.9 440.8,256.9 441.2,256.9 441.6,256.9 442.0,256.9 442.4,256.9 442.8,256.9 443.2,256.9 443.6,256.9 444.0,256.9 444.4,256.9 444.8,256.9 445.2,256.9 445.6,256.9 446.0,256.9 446.4,256.9 446.8,256.9 447.2,256.9 447.6,256.9 448.0,256.9 448.4,256.9 448.8,256.9 449.2,256.9 449.6,256.9 450.0,256.9 450.4,256.9 450.8,256.9 451.2,256.9 451.6,256.9 452.0,256.9 452.4,256.9 452.8,256.9 453.2,256.8 453.6,256.8 454.0,256.8 454.4,256.7 454.8,256.7 455.2,256.5 455.6,256.3 456.0,256.1 456.4,255.7 456.8,255.2 457.2,254.7 457.6,254.1 458.0,253.4 458.4,252.8 458.8,252.2 459.2,251.8 459.6,251.6 460.0,251.6 460.4,251.8 460.8,252.2 461.2,252.8 461.6,253.4 462.0,254.1 462.4,254.7 462.8,255.2 463.2,255.7 463.6,256.1 464.0,256.3 464.4,256.5 464.8,256.7 465.2,256.7 465.6,256.8 466.0,256.8 466.4,256.8 466.8,256.9 467.2,256.9 467.6,256.9 468.0,256.9 468.4,256.9 468.8,256.9 469.2,256.9 469.6,256.9 470.0,256.9 470.4,256.9 470.8,256.9 471.2,256.9 471.6,256.9 472.0,256.9 472.4,256.9 472.8,256.9 473.2,256.9 473.6,256.9 474.0,256.9 474.4,256.9 474.8,256.9 475.2,256.9 475.6,256.9 476.0,256.9 476.4,256.9 476.8,256.9 477.2,256.9 477.6,256.9 478.0,256.9 478.4,256.9 478.8,256.9 479.2,256.9 479.6,256.9 480.0,256.9 480.4,256.9 480.8,256.9 481.2,256.9 481.6,256.9 482.0,256.9 482.4,256.9 482.8,256.9 483.2,256.9 483.6,256.9 484.0,256.9 484.4,256.9 484.8,256.9 485.2,256.9 485.6,256.9 486.0,256.9 486.4,256.9 486.8,256.9 487.2,256.9 487.6,256.9 488.0,256.9 488.4,256.9 488.8,256.9 489.2,256.9 489.6,256.9 490.0,256.9 490.4,256.9 490.8,256.9 491.2,256.9 491.6,256.9 492.0,256.9 492.4,256.9 492.8,256.9 493.2,256.9 493.6,256.9 494.0,256.9 494.4,256.9"/>
<path class="c" stroke="#1292fa" stroke-width="2.1" d="M50.0,256.6 50.4,256.6 50.8,256.6 51.2,256.6 51.6,256.6 52.0,256.6 52.4,256.6 52.8,256.6 53.2,256.6 53.6,256.6 54.0,256.6 54.4,256.6 54.8,256.6 55.2,256.6 55.6,256.6 56.0,256.6 56.4,256.6 56.8,256.6 57.2,256.6 57.6,256.6 58.0,256.6 58.4,256.6 58.8,256.6 59.2,256.6 59.6,256.6 60.0,256.6 60.4,256.6 60.8,256.6 61.2,256.6 61.6,256.6 62.0,256.6 62.4,256.6 62.8,256.6 63.2,256.6 63.6,256.6 64.0,256.6 64.4,256.6 64.8,256.6 65.2,256.6 65.6,256.6 66.0,256.6 66.4,256.6 66.8,256.6 67.2,256.6 67.6,256.6 68.0,256.6 68.4,256.6 68.8,256.6 69.2,256.6 69.6,256.6 70.0,256.6 70.4,256.6 70.8,256.6 71.2,256.6 71.6,256.6 72.0,256.6 72.4,256.6 72.8,256.6 73.2,256.6 73.6,256.6 74.0,256.6 74.4,256.6 74.8,256.6 75.2,256.6 75.6,256.6 76.0,256.6 76.4,256.6 76.8,256.6 77.2,256.6 77.6,256.6 78.0,256.6 78.4,256.6 78.8,256.6 79.2,256.6 79.6,256.6 80.0,256.6 80.4,256.6 80.8,256.6 81.2,256.6 81.6,256.6 82.0,256.6 82.4,256.6 82.8,256.6 83.2,256.6 83.6,256.6 84.0,256.6 84.4,256.6 84.8,256.6 85.2,256.6 85.6,256.6 86.0,256.6 86.4,256.6 86.8,256.6 87.2,256.6 87.6,256.6 88.0,256.6 88.4,256.6 88.8,256.6 89.2,256.6 89.6,256.6 90.0,256.6 90.4,256.6 90.8,256.6 91.2,256.6 91.6,256.6 92.0,256.6 92.4,256.6 92.8,256.6 93.2,256.6 93.6,256.6 94.0,256.6 94.4,256.6 94.8,256.6 95.2,256.6 95.6,256.6 96.0,256.6 96.4,256.6 96.8,256.6 97.2,256.6 97.6,256.6 98.0,256.6 98.4,256.6 98.8,256.6 99.2,256.6 99.6,256.6 100.0,256.6 100.4,256.6 100.8,256.6 101.2,256.6 101.6,256.6 102.0,256.6 102.4,256.6 102.8,256.6 103.2,256.6 103.6,256.6 104.0,256.6 104.4,256.6 104.8,256.6 105.2,256.6 105.6,256.6 106.0,256.6 106.4,256.6 106.8,256.6 107.2,256.6 107.6,256.6 108.0,256.6 108.4,256.6 108.8,256.6 109.2,256.6 109.6,256.6 110.0,256.6 110.4,256.6 110.8,256.6 111.2,256.6 111.6,256.6 112.0,256.6 112.4,256.6 112.8,256.6 113.2,256.6 113.6,256.6 114.0,256.6 114.4,256.6 114.8,256.6 115.2,256.6 115.6,256.6 116.0,256.6 116.4,256.6 116.8,256.6 117.2,256.6 117.6,256.6 118.0,256.6 118.4,256.6 118.8,256.6 119.2,256.6 119.6,256.6 120.0,256.6 120.4,256.6 120.8,256.6 121.2,256.6 121.6,256.6 122.0,256.6 122.4,256.6 122.8,256.6 123.2,256.6 123.6,256.6 124.0,256.6 124.4,256.6 124.8,256.6 125.2,256.6 125.6,256.6 126.0,256.6 126.4,256.6 126.8,256.6 127.2,256.6 127.6,256.6 128.0,256.6 128.4,256.6 128.8,256.6 129.2,256.6 129.6,256.6 130.0,256.6 130.4,256.6 130.8,256.6 131.2,256.6 131.6,256.6 132.0,256.6 132.4,256.6 132.8,256.6 133.2,256.6 133.6,256.6 134.0,256.6 134.4,256.6 134.8,256.6 135.2,256.6 135.6,256.6 136.0,256.6 136.4,256.6 136.8,256.6 137.2,256.6 137.6,256.6 138.0,256.6 138.4,256.6 138.8,256.6 139.2,256.6 139.6,256.6 140.0,256.6 140.4,256.6 140.8,256.6 141.2,256.6 141.6,256.6 142.0,256.6 142.4,256.6 142.8,256.6 143.2,256.6 143.6,256.6 144.0,256.6 144.4,256.6 144.8,256.6 145.2,256.6 145.6,256.6 146.0,256.6 146.4,256.6 146.8,256.6 147.2,256.6 147.6,256.6 148.0,256.6 148.4,256.6 148.8,256.6 149.2,256.6 149.6,256.6 150.0,256.6 150.4,256.6 150.8,256.6 151.2,256.6 151.6,256.6 152.0,256.6 152.4,256.6 152.8,256.6 153.2,256.6 153.6,256.6 154.0,256.6 154.4,256.6 154.8,256.6 155.2,256.6 155.6,256.6 156.0,256.6 156.4,256.6 156.8,256.6 157.2,256.6 157.6,256.6 158.0,256.6 158.4,256.6 158.8,256.6 159.2,256.6 159.6,256.6 160.0,256.6 160.4,256.6 160.8,256.6 161.2,256.6 161.6,256.6 162.0,256.6 162.4,256.6 162.8,256.6 163.2,256.6 163.6,256.6 164.0,256.6 164.4,256.6 164.8,256.6 165.2,256.6 165.6,256.6 166.0,256.6 166.4,256.6 166.8,256.6 167.2,256.6 167.6,256.6 168.0,256.6 168.4,256.6 168.8,256.6 169.2,256.6 169.6,256.6 170.0,256.6 170.4,256.6 170.8,256.6 171.2,256.6 171.6,256.6 172.0,256.6 172.4,256.6 172.8,256.6 173.2,256.6 173.6,256.6 174.0,256.6 174.4,256.6 174.8,256.6 175.2,256.6 175.6,256.6 176.0,256.5 176.4,256.5 176.8,256.5 177.2,256.5 177.6,256.5 178.0,256.5 178.4,256.5 178.8,256.5 179.2,256.5 179.6,256.5 180.0,256.5 180.4,256.5 180.8,256.5 181.2,256.5 181.6,256.5 182.0,256.5 182.4,256.5 182.8,256.5 183.2,256.5 183.6,256.5 184.0,256.5 184.4,256.5 184.8,256.5 185.2,256.5 185.6,256.5 186.0,256.5 186.4,256.5 186.8,256.5 187.2,256.5 187.6,256.5 188.0,256.5 188.4,256.5 188.8,256.5 189.2,256.5 189.6,256.5 190.0,256.5 190.4,256.5 190.8,256.5 191.2,256.5 191.6,256.5 192.0,256.5 192.4,256.5 192.8,256.5 193.2,256.5 193.6,256.5 194.0,256.5 194.4,256.5 194.8,256.5 195.2,256.5 195.6,256.5 196.0,256.5 196.4,256.5 196.8,256.5 197.2,256.5 197.6,256.5 198.0,256.5 198.4,256.5 198.8,256.5 199.2,256.5 199.6,256.5 200.0,256.5 200.4,256.5 200.8,256.5 201.2,256.5 201.6,256.5 202.0,256.5 202.4,256.5 202.8,256.5 203.2,256.5 203.6,256.5 204.0,256.5 204.4,256.5 204.8,256.5 205.2,256.5 205.6,256.5 206.0,256.5 206.4,256.5 206.8,256.5 207.2,256.5 207.6,256.5 208.0,256.5 208.4,256.4 208.8,256.4 209.2,256.4 209.6,256.4 210.0,256.4 210.4,256.4 210.8,256.4 211.2,256.4 211.6,256.4 212.0,256.4 212.4,256.4 212.8,256.4 213.2,256.4 213.6,256.4 214.0,256.4 214.4,256.4 214.8,256.4 215.2,256.4 215.6,256.4 216.0,256.4 216.4,256.4 216.8,256.4 217.2,256.4 217.6,256.4 218.0,256.3 218.4,256.3 218.8,256.3 219.2,256.3 219.6,256.3 220.0,256.3 220.4,256.3 220.8,256.3 221.2,256.3 221.6,256.3 222.0,256.3 222.4,256.3 222.8,256.3 223.2,256.2 223.6,256.2 224.0,256.2 224.4,256.2 224.8,256.2 225.2,256.2 225.6,256.2 226.0,256.2 226.4,256.1 226.8,256.1 227.2,256.1 227.6,256.1 228.0,256.1 228.4,256.1 228.8,256.0 229.2,256.0 229.6,256.0 230.0,256.0 230.4,255.9 230.8,255.9 231.2,255.9 231.6,255.8 232.0,255.8 232.4,255.8 232.8,255.7 233.2,255.7 233.6,255.7 234.0,255.6 234.4,255.6 234.8,255.5 235.2,255.5 235.6,255.4 236.0,255.3 236.4,255.2 236.8,255.2 237.2,255.1 237.6,255.0 238.0,254.9 238.4,254.8 238.8,254.6 239.2,254.5 239.6,254.3 240.0,254.1 240.4,254.0 240.8,253.7 241.2,253.5 241.6,253.2 242.0,252.9 242.4,252.5 242.8,252.0 243.2,251.5 243.6,250.9 244.0,250.2 244.4,249.2 244.8,248.0 245.2,246.5 245.6,244.4 246.0,241.6 246.4,237.8 246.8,232.9 247.2,226.7 247.6,218.9 248.0,209.6 248.4,199.2 248.8,188.1 249.2,177.9 249.6,170.4 250.0,167.6 250.4,170.2 250.8,177.1 251.2,186.7 251.6,197.2 252.0,207.4 252.4,216.5 252.8,224.4 253.2,230.8 253.6,236.0 254.0,240.0 254.4,243.1 254.8,245.4 255.2,247.2 255.6,248.5 256.0,249.6 256.4,250.4 256.8,251.1 257.2,251.6 257.6,252.1 258.0,252.5 258.4,252.9 258.8,253.2 259.2,253.5 259.6,253.7 260.0,253.9 260.4,254.1 260.8,254.3 261.2,254.4 261.6,254.6 262.0,254.7 262.4,254.8 262.8,254.9 263.2,255.0 263.6,255.1 264.0,255.2 264.4,255.3 264.8,255.3 265.2,255.4 265.6,255.5 266.0,255.5 266.4,255.6 266.8,255.6 267.2,255.7 267.6,255.7 268.0,255.7 268.4,255.8 268.8,255.8 269.2,255.8 269.6,255.9 270.0,255.9 270.4,255.9 270.8,255.9 271.2,256.0 271.6,256.0 272.0,256.0 272.4,256.0 272.8,256.1 273.2,256.1 273.6,256.1 274.0,256.1 274.4,256.1 274.8,256.1 275.2,256.1 275.6,256.2 276.0,256.2 276.4,256.2 276.8,256.2 277.2,256.2 277.6,256.2 278.0,256.2 278.4,256.2 278.8,256.2 279.2,256.3 279.6,256.3 280.0,256.3 280.4,256.3 280.8,256.3 281.2,256.3 281.6,256.3 282.0,256.3 282.4,256.3 282.8,256.3 283.2,256.3 283.6,256.3 284.0,256.3 284.4,256.3 284.8,256.4 285.2,256.4 285.6,256.4 286.0,256.4 286.4,256.4 286.8,256.4 287.2,256.4 287.6,256.4 288.0,256.4 288.4,256.4 288.8,256.4 289.2,256.4 289.6,256.4 290.0,256.4 290.4,256.4 290.8,256.4 291.2,256.4 291.6,256.4 292.0,256.4 292.4,256.4 292.8,256.4 293.2,256.4 293.6,256.4 294.0,256.4 294.4,256.4 294.8,256.4 295.2,256.4 295.6,256.4 296.0,256.4 296.4,256.4 296.8,256.4 297.2,256.5 297.6,256.5 298.0,256.5 298.4,256.5 298.8,256.5 299.2,256.5 299.6,256.5 300.0,256.5 300.4,256.5 300.8,256.5 301.2,256.5 301.6,256.5 302.0,256.5 302.4,256.5 302.8,256.5 303.2,256.5 303.6,256.5 304.0,256.5 304.4,256.5 304.8,256.5 305.2,256.5 305.6,256.5 306.0,256.5 306.4,256.5 306.8,256.5 307.2,256.5 307.6,256.5 308.0,256.5 308.4,256.5 308.8,256.5 309.2,256.5 309.6,256.5 310.0,256.5 310.4,256.5 310.8,256.5 311.2,256.5 311.6,256.5 312.0,256.5 312.4,256.5 312.8,256.5 313.2,256.5 313.6,256.5 314.0,256.5 314.4,256.5 314.8,256.5 315.2,256.5 315.6,256.5 316.0,256.5 316.4,256.5 316.8,256.5 317.2,256.5 317.6,256.5 318.0,256.5 318.4,256.5 318.8,256.5 319.2,256.5 319.6,256.5 320.0,256.5 320.4,256.5 320.8,256.5 321.2,256.5 321.6,256.5 322.0,256.5 322.4,256.5 322.8,256.5 323.2,256.5 323.6,256.5 324.0,256.5 324.4,256.5 324.8,256.5 325.2,256.5 325.6,256.5 326.0,256.5 326.4,256.5 326.8,256.5 327.2,256.5 327.6,256.5 328.0,256.5 328.4,256.5 328.8,256.5 329.2,256.5 329.6,256.5 330.0,256.5 330.4,256.5 330.8,256.5 331.2,256.5 331.6,256.5 332.0,256.5 332.4,256.5 332.8,256.5 333.2,256.5 333.6,256.5 334.0,256.5 334.4,256.5 334.8,256.5 335.2,256.5 335.6,256.5 336.0,256.5 336.4,256.5 336.8,256.5 337.2,256.5 337.6,256.5 338.0,256.5 338.4,256.5 338.8,256.5 339.2,256.4 339.6,256.4 340.0,256.4 340.4,256.4 340.8,256.4 341.2,256.4 341.6,256.4 342.0,256.4 342.4,256.4 342.8,256.4 343.2,256.4 343.6,256.4 344.0,256.4 344.4,256.4 344.8,256.4 345.2,256.4 345.6,256.4 346.0,256.4 346.4,256.4 346.8,256.4 347.2,256.4 347.6,256.4 348.0,256.4 348.4,256.4 348.8,256.4 349.2,256.3 349.6,256.3 350.0,256.3 350.4,256.3 350.8,256.3 351.2,256.3 351.6,256.3 352.0,256.3 352.4,256.3 352.8,256.3 353.2,256.3 353.6,256.2 354.0,256.2 354.4,256.2 354.8,256.2 355.2,256.2 355.6,256.2 356.0,256.2 356.4,256.1 356.8,256.1 357.2,256.1 357.6,256.1 358.0,256.0 358.4,256.0 358.8,256.0 359.2,256.0 359.6,255.9 360.0,255.9 360.4,255.9 360.8,255.8 361.2,255.8 361.6,255.7 362.0,255.7 362.4,255.6 362.8,255.5 363.2,255.5 363.6,255.4 364.0,255.3 364.4,255.2 364.8,255.1 365.2,254.9 365.6,254.8 366.0,254.6 366.4,254.4 366.8,254.2 367.2,253.9 367.6,253.6 368.0,253.3 368.4,252.8 368.8,252.3 369.2,251.5 369.6,250.6 370.0,249.2 370.4,247.4 370.8,244.9 371.2,241.5 371.6,237.1 372.0,231.6 372.4,225.0 372.8,217.5 373.2,209.7 373.6,202.7 374.0,198.0 374.4,197.0 374.8,199.5 375.2,204.6 375.6,211.3 376.0,218.4 376.4,225.1 376.8,231.2 377.2,236.3 377.6,240.5 378.0,243.9 378.4,246.4 378.8,248.4 379.2,249.8 379.6,250.9 380.0,251.7 380.4,252.3 380.8,252.8 381.2,253.3 381.6,253.6 382.0,253.9 382.4,254.1 382.8,254.3 383.2,254.5 383.6,254.7 384.0,254.8 384.4,255.0 384.8,255.1 385.2,255.2 385.6,255.3 386.0,255.4 386.4,255.4 386.8,255.5 387.2,255.6 387.6,255.6 388.0,255.7 388.4,255.7 388.8,255.8 389.2,255.8 389.6,255.9 390.0,255.9 390.4,255.9 390.8,256.0 391.2,256.0 391.6,256.0 392.0,256.0 392.4,256.1 392.8,256.1 393.2,256.1 393.6,256.1 394.0,256.1 394.4,256.2 394.8,256.2 395.2,256.2 395.6,256.2 396.0,256.2 396.4,256.2 396.8,256.2 397.2,256.3 397.6,256.3 398.0,256.3 398.4,256.3 398.8,256.3 399.2,256.3 399.6,256.3 400.0,256.3 400.4,256.3 400.8,256.3 401.2,256.3 401.6,256.4 402.0,256.4 402.4,256.4 402.8,256.4 403.2,256.4 403.6,256.4 404.0,256.4 404.4,256.4 404.8,256.4 405.2,256.4 405.6,256.4 406.0,256.4 406.4,256.4 406.8,256.4 407.2,256.4 407.6,256.4 408.0,256.4 408.4,256.4 408.8,256.4 409.2,256.4 409.6,256.5 410.0,256.5 410.4,256.5 410.8,256.5 411.2,256.5 411.6,256.5 412.0,256.5 412.4,256.5 412.8,256.5 413.2,256.5 413.6,256.5 414.0,256.5 414.4,256.5 414.8,256.5 415.2,256.5 415.6,256.5 416.0,256.5 416.4,256.5 416.8,256.5 417.2,256.5 417.6,256.5 418.0,256.5 418.4,256.5 418.8,256.5 419.2,256.5 419.6,256.5 420.0,256.5 420.4,256.5 420.8,256.5 421.2,256.5 421.6,256.5 422.0,256.5 422.4,256.5 422.8,256.5 423.2,256.5 423.6,256.5 424.0,256.5 424.4,256.5 424.8,256.5 425.2,256.5 425.6,256.5 426.0,256.5 426.4,256.5 426.8,256.5 427.2,256.5 427.6,256.5 428.0,256.5 428.4,256.5 428.8,256.5 429.2,256.5 429.6,256.5 430.0,256.5 430.4,256.5 430.8,256.5 431.2,256.5 431.6,256.5 432.0,256.5 432.4,256.5 432.8,256.5 433.2,256.5 433.6,256.5 434.0,256.5 434.4,256.5 434.8,256.5 435.2,256.5 435.6,256.5 436.0,256.5 436.4,256.5 436.8,256.5 437.2,256.5 437.6,256.5 438.0,256.5 438.4,256.5 438.8,256.5 439.2,256.5 439.6,256.5 440.0,256.5 440.4,256.5 440.8,256.5 441.2,256.5 441.6,256.5 442.0,256.5 442.4,256.5 442.8,256.5 443.2,256.5 443.6,256.5 444.0,256.5 444.4,256.5 444.8,256.5 445.2,256.5 445.6,256.5 446.0,256.5 446.4,256.5 446.8,256.5 447.2,256.5 447.6,256.5 448.0,256.5 448.4,256.5 448.8,256.5 449.2,256.5 449.6,256.5 450.0,256.4 450.4,256.3 450.8,256.0 451.2,255.7 451.6,255.3 452.0,254.9 452.4,254.7 452.8,254.7 453.2,254.9 453.6,255.3 454.0,255.7 454.4,256.0 454.8,256.3 455.2,256.4 455.6,256.5 456.0,256.5 456.4,256.5 456.8,256.5 457.2,256.5 457.6,256.5 458.0,256.5 458.4,256.6 458.8,256.6 459.2,256.6 459.6,256.6 460.0,256.6 460.4,256.6 460.8,256.6 461.2,256.6 461.6,256.6 462.0,256.6 462.4,256.6 462.8,256.6 463.2,256.6 463.6,256.6 464.0,256.6 464.4,256.6 464.8,256.6 465.2,256.6 465.6,256.6 466.0,256.6 466.4,256.6 466.8,256.6 467.2,256.6 467.6,256.6 468.0,256.6 468.4,256.6 468.8,256.6 469.2,256.6 469.6,256.6 470.0,256.6 470.4,256.6 470.8,256.6 471.2,256.6 471.6,256.6 472.0,256.6 472.4,256.6 472.8,256.6 473.2,256.6 473.6,256.6 474.0,256.6 474.4,256.6 474.8,256.6 475.2,256.6 475.6,256.6 476.0,256.6 476.4,256.6 476.8,256.6 477.2,256.6 477.6,256.6 478.0,256.6 478.4,256.6 478.8,256.6 479.2,256.6 479.6,256.6 480.0,256.6 480.4,256.6 480.8,256.6 481.2,256.6 481.6,256.6 482.0,256.6 482.4,256.6 482.8,256.6 483.2,256.6 483.6,256.6 484.0,256.6 484.4,256.6 484.8,256.6 485.2,256.6 485.6,256.6 486.0,256.6 486.4,256.6 486.8,256.6 487.2,256.6 487.6,256.6 488.0,256.6 488.4,256.6 488.8,256.6 489.2,256.6 489.6,256.6 490.0,256.6 490.4,256.6 490.8,256.6 491.2,256.6 491.6,256.6 492.0,256.6 492.4,256.6 492.8,256.6 493.2,256.6 493.6,256.6 494.0,256.6 494.4,256.6"/>
<!-- measured -->
<path class="c" stroke="#000" stroke-width="1.8" d="M50.0,192.7 50.4,192.7 50.8,192.7 51.2,192.9 51.6,192.8 52.0,192.8 52.4,192.8 52.8,192.7 53.2,192.7 53.6,192.8 54.0,192.8 54.4,192.9 54.8,192.8 55.2,192.7 55.6,192.7 56.0,192.7 56.4,192.7 56.8,192.8 57.2,192.7 57.6,192.7 58.0,192.8 58.4,192.8 58.8,192.8 59.2,192.8 59.6,192.8 60.0,192.8 60.4,192.8 60.8,192.8 61.2,192.9 61.6,192.8 62.0,192.9 62.4,192.9 62.8,192.9 63.2,193.0 63.6,193.0 64.0,192.9 64.4,193.0 64.8,193.0 65.2,192.9 65.6,193.0 66.0,192.8 66.4,192.9 66.8,193.0 67.2,193.0 67.6,193.1 68.0,193.0 68.4,193.1 68.8,193.1 69.2,193.3 69.6,193.4 70.0,193.2 70.4,193.2 70.8,193.1 71.2,193.1 71.6,193.2 72.0,193.2 72.4,193.2 72.8,193.2 73.2,193.3 73.6,193.2 74.0,193.1 74.4,193.1 74.8,193.1 75.2,193.1 75.6,193.2 76.0,193.2 76.4,193.2 76.8,193.2 77.2,193.2 77.6,193.3 78.0,193.2 78.4,193.2 78.8,193.2 79.2,193.3 79.6,193.2 80.0,193.2 80.4,193.2 80.8,193.1 81.2,193.1 81.6,193.2 82.0,193.2 82.4,193.1 82.8,193.2 83.2,193.2 83.6,193.3 84.0,193.4 84.4,193.4 84.8,193.4 85.2,193.4 85.6,193.3 86.0,193.3 86.4,193.3 86.8,193.4 87.2,193.4 87.6,193.4 88.0,193.4 88.4,193.3 88.8,193.3 89.2,193.3 89.6,193.3 90.0,193.4 90.4,193.4 90.8,193.4 91.2,193.4 91.6,193.5 92.0,193.4 92.4,193.5 92.8,193.5 93.2,193.5 93.6,193.5 94.0,193.5 94.4,193.4 94.8,193.4 95.2,193.4 95.6,193.4 96.0,193.4 96.4,193.5 96.8,193.5 97.2,193.5 97.6,193.6 98.0,193.4 98.4,193.5 98.8,193.3 99.2,193.3 99.6,193.4 100.0,193.5 100.4,193.7 100.8,193.6 101.2,193.6 101.6,193.5 102.0,193.5 102.4,193.7 102.8,193.7 103.2,193.6 103.6,193.5 104.0,193.4 104.4,193.5 104.8,193.5 105.2,193.6 105.6,193.6 106.0,193.6 106.4,193.7 106.8,193.6 107.2,193.7 107.6,193.6 108.0,193.7 108.4,193.8 108.8,193.7 109.2,193.8 109.6,193.6 110.0,193.5 110.4,193.5 110.8,193.4 111.2,193.5 111.6,193.6 112.0,193.6 112.4,193.6 112.8,193.6 113.2,193.6 113.6,193.6 114.0,193.5 114.4,193.5 114.8,193.4 115.2,193.3 115.6,193.4 116.0,193.6 116.4,193.7 116.8,193.7 117.2,193.6 117.6,193.5 118.0,193.4 118.4,193.4 118.8,193.5 119.2,193.7 119.6,193.7 120.0,193.7 120.4,193.8 120.8,193.7 121.2,193.7 121.6,193.8 122.0,193.6 122.4,193.5 122.8,193.5 123.2,193.4 123.6,193.6 124.0,193.7 124.4,193.8 124.8,193.8 125.2,193.8 125.6,193.8 126.0,193.7 126.4,193.7 126.8,193.7 127.2,193.8 127.6,193.8 128.0,193.8 128.4,193.8 128.8,193.6 129.2,193.6 129.6,193.5 130.0,193.5 130.4,193.6 130.8,193.6 131.2,193.5 131.6,193.6 132.0,193.6 132.4,193.5 132.8,193.5 133.2,193.5 133.6,193.5 134.0,193.5 134.4,193.5 134.8,193.5 135.2,193.5 135.6,193.5 136.0,193.5 136.4,193.5 136.8,193.4 137.2,193.4 137.6,193.2 138.0,193.2 138.4,193.2 138.8,193.3 139.2,193.3 139.6,193.3 140.0,193.5 140.4,193.5 140.8,193.6 141.2,193.5 141.6,193.4 142.0,193.4 142.4,193.2 142.8,193.2 143.2,193.2 143.6,193.1 144.0,193.2 144.4,193.2 144.8,193.1 145.2,193.1 145.6,193.1 146.0,193.1 146.4,193.1 146.8,193.2 147.2,193.2 147.6,193.2 148.0,193.1 148.4,193.1 148.8,193.0 149.2,192.9 149.6,192.9 150.0,193.0 150.4,193.0 150.8,193.0 151.2,193.0 151.6,192.9 152.0,192.7 152.4,192.6 152.8,192.6 153.2,192.5 153.6,192.6 154.0,192.7 154.4,192.6 154.8,192.7 155.2,192.6 155.6,192.5 156.0,192.5 156.4,192.4 156.8,192.5 157.2,192.5 157.6,192.5 158.0,192.6 158.4,192.5 158.8,192.5 159.2,192.4 159.6,192.4 160.0,192.3 160.4,192.4 160.8,192.4 161.2,192.4 161.6,192.3 162.0,192.3 162.4,192.3 162.8,192.2 163.2,192.1 163.6,192.0 164.0,192.0 164.4,192.0 164.8,191.9 165.2,191.9 165.6,191.8 166.0,191.8 166.4,191.8 166.8,191.7 167.2,191.7 167.6,191.7 168.0,191.6 168.4,191.5 168.8,191.4 169.2,191.3 169.6,191.2 170.0,191.1 170.4,191.0 170.8,190.9 171.2,190.9 171.6,190.8 172.0,190.6 172.4,190.4 172.8,190.2 173.2,190.2 173.6,190.4 174.0,190.6 174.4,190.8 174.8,191.0 175.2,191.1 175.6,191.1 176.0,191.3 176.4,191.5 176.8,191.6 177.2,191.7 177.6,192.0 178.0,192.0 178.4,192.2 178.8,192.3 179.2,192.3 179.6,192.3 180.0,192.4 180.4,192.3 180.8,192.4 181.2,192.6 181.6,192.5 182.0,192.6 182.4,192.6 182.8,192.6 183.2,192.7 183.6,192.7 184.0,192.8 184.4,192.7 184.8,192.8 185.2,192.7 185.6,192.8 186.0,192.9 186.4,192.9 186.8,193.0 187.2,192.9 187.6,192.9 188.0,192.9 188.4,192.8 188.8,192.9 189.2,193.0 189.6,193.1 190.0,193.1 190.4,193.1 190.8,193.2 191.2,193.1 191.6,193.3 192.0,193.3 192.4,193.3 192.8,193.5 193.2,193.3 193.6,193.4 194.0,193.4 194.4,193.3 194.8,193.2 195.2,193.2 195.6,193.1 196.0,193.0 196.4,193.2 196.8,193.2 197.2,193.2 197.6,193.2 198.0,193.3 198.4,193.2 198.8,193.1 199.2,193.0 199.6,193.0 200.0,193.1 200.4,193.1 200.8,193.1 201.2,193.2 201.6,193.2 202.0,193.2 202.4,193.1 202.8,193.0 203.2,192.8 203.6,192.9 204.0,193.0 204.4,193.0 204.8,193.1 205.2,193.0 205.6,192.9 206.0,193.0 206.4,192.9 206.8,192.9 207.2,192.9 207.6,192.9 208.0,192.8 208.4,192.8 208.8,192.8 209.2,192.7 209.6,192.7 210.0,192.6 210.4,192.6 210.8,192.5 211.2,192.5 211.6,192.5 212.0,192.5 212.4,192.5 212.8,192.5 213.2,192.5 213.6,192.4 214.0,192.4 214.4,192.3 214.8,192.2 215.2,192.1 215.6,192.2 216.0,192.2 216.4,192.1 216.8,192.2 217.2,192.0 217.6,192.0 218.0,192.0 218.4,191.8 218.8,191.7 219.2,191.7 219.6,191.6 220.0,191.6 220.4,191.5 220.8,191.4 221.2,191.2 221.6,191.1 222.0,191.0 222.4,190.9 222.8,190.9 223.2,190.8 223.6,190.6 224.0,190.4 224.4,190.1 224.8,190.0 225.2,189.8 225.6,189.7 226.0,189.7 226.4,189.4 226.8,189.3 227.2,189.1 227.6,188.8 228.0,188.6 228.4,188.3 228.8,187.9 229.2,187.5 229.6,187.3 230.0,186.9 230.4,186.6 230.8,186.2 231.2,185.8 231.6,185.5 232.0,185.0 232.4,184.8 232.8,184.3 233.2,183.9 233.6,183.5 234.0,183.1 234.4,182.6 234.8,182.1 235.2,181.6 235.6,181.1 236.0,180.7 236.4,180.4 236.8,179.9 237.2,179.6 237.6,179.1 238.0,178.6 238.4,178.1 238.8,177.6 239.2,177.2 239.6,177.0 240.0,176.7 240.4,176.5 240.8,176.2 241.2,175.8 241.6,175.5 242.0,175.0 242.4,174.4 242.8,173.8 243.2,173.0 243.6,172.3 244.0,171.6 244.4,170.7 244.8,170.0 245.2,168.9 245.6,168.0 246.0,167.2 246.4,166.3 246.8,165.6 247.2,164.7 247.6,164.2 248.0,163.7 248.4,163.6 248.8,164.2 249.2,164.8 249.6,165.4 250.0,166.3 250.4,167.7 250.8,169.3 251.2,171.1 251.6,172.8 252.0,174.0 252.4,175.2 252.8,176.3 253.2,177.2 253.6,178.1 254.0,179.2 254.4,180.0 254.8,180.9 255.2,181.7 255.6,182.3 256.0,183.0 256.4,183.5 256.8,184.0 257.2,184.5 257.6,184.9 258.0,185.4 258.4,185.8 258.8,186.1 259.2,186.3 259.6,186.5 260.0,186.8 260.4,187.1 260.8,187.2 261.2,187.4 261.6,187.6 262.0,187.6 262.4,187.7 262.8,187.8 263.2,187.8 263.6,188.0 264.0,188.0 264.4,188.0 264.8,188.1 265.2,188.0 265.6,188.0 266.0,188.0 266.4,187.9 266.8,187.8 267.2,187.7 267.6,187.6 268.0,187.6 268.4,187.5 268.8,187.4 269.2,187.2 269.6,187.0 270.0,186.8 270.4,186.7 270.8,186.7 271.2,186.5 271.6,186.4 272.0,186.1 272.4,185.9 272.8,185.5 273.2,185.3 273.6,185.0 274.0,184.6 274.4,184.2 274.8,183.8 275.2,183.4 275.6,183.2 276.0,183.0 276.4,182.7 276.8,182.4 277.2,181.9 277.6,181.6 278.0,181.2 278.4,181.0 278.8,180.6 279.2,180.3 279.6,180.4 280.0,180.7 280.4,181.1 280.8,181.6 281.2,182.2 281.6,182.8 282.0,183.6 282.4,184.3 282.8,184.9 283.2,185.5 283.6,185.9 284.0,186.4 284.4,186.8 284.8,187.1 285.2,187.5 285.6,187.9 286.0,188.2 286.4,188.5 286.8,188.8 287.2,189.0 287.6,189.2 288.0,189.4 288.4,189.5 288.8,189.7 289.2,189.9 289.6,189.9 290.0,190.1 290.4,190.1 290.8,190.1 291.2,190.3 291.6,190.3 292.0,190.4 292.4,190.5 292.8,190.6 293.2,190.7 293.6,190.8 294.0,190.9 294.4,190.9 294.8,191.0 295.2,191.0 295.6,191.2 296.0,191.1 296.4,191.1 296.8,191.1 297.2,191.0 297.6,190.9 298.0,190.8 298.4,190.8 298.8,190.9 299.2,190.9 299.6,190.9 300.0,190.9 300.4,190.8 300.8,190.8 301.2,190.9 301.6,190.9 302.0,190.9 302.4,190.7 302.8,190.5 303.2,190.3 303.6,190.1 304.0,190.0 304.4,189.7 304.8,189.5 305.2,189.2 305.6,188.9 306.0,189.0 306.4,189.2 306.8,189.5 307.2,189.8 307.6,190.0 308.0,190.0 308.4,190.1 308.8,190.3 309.2,190.3 309.6,190.5 310.0,190.7 310.4,190.8 310.8,190.9 311.2,190.9 311.6,191.0 312.0,191.1 312.4,191.3 312.8,191.3 313.2,191.3 313.6,191.2 314.0,191.2 314.4,191.1 314.8,191.2 315.2,191.1 315.6,191.1 316.0,191.1 316.4,190.9 316.8,190.9 317.2,190.7 317.6,190.7 318.0,190.7 318.4,190.5 318.8,190.5 319.2,190.5 319.6,190.4 320.0,190.5 320.4,190.5 320.8,190.6 321.2,190.6 321.6,190.5 322.0,190.5 322.4,190.5 322.8,190.5 323.2,190.5 323.6,190.4 324.0,190.5 324.4,190.6 324.8,190.7 325.2,190.7 325.6,190.6 326.0,190.5 326.4,190.4 326.8,190.5 327.2,190.5 327.6,190.6 328.0,190.8 328.4,190.7 328.8,190.8 329.2,190.9 329.6,190.8 330.0,190.9 330.4,191.0 330.8,191.1 331.2,191.2 331.6,191.1 332.0,191.1 332.4,191.1 332.8,191.0 333.2,191.0 333.6,191.1 334.0,191.1 334.4,191.1 334.8,191.2 335.2,191.0 335.6,191.1 336.0,191.2 336.4,191.2 336.8,191.3 337.2,191.2 337.6,191.2 338.0,191.1 338.4,191.1 338.8,191.2 339.2,191.1 339.6,191.2 340.0,191.2 340.4,191.1 340.8,191.1 341.2,191.0 341.6,191.0 342.0,191.0 342.4,190.9 342.8,190.9 343.2,190.9 343.6,190.7 344.0,190.6 344.4,190.5 344.8,190.4 345.2,190.3 345.6,190.4 346.0,190.2 346.4,190.0 346.8,190.0 347.2,189.8 347.6,189.7 348.0,189.5 348.4,189.4 348.8,189.2 349.2,189.0 349.6,188.8 350.0,188.7 350.4,188.5 350.8,188.4 351.2,188.1 351.6,188.0 352.0,187.8 352.4,187.6 352.8,187.4 353.2,187.1 353.6,187.0 354.0,186.8 354.4,186.7 354.8,186.6 355.2,186.4 355.6,186.2 356.0,185.9 356.4,185.8 356.8,185.8 357.2,185.7 357.6,185.7 358.0,185.5 358.4,185.5 358.8,185.3 359.2,185.1 359.6,185.0 360.0,184.7 360.4,184.6 360.8,184.3 361.2,184.2 361.6,183.9 362.0,183.6 362.4,183.5 362.8,183.2 363.2,183.0 363.6,182.7 364.0,182.5 364.4,182.2 364.8,181.9 365.2,181.6 365.6,181.4 366.0,181.1 366.4,181.0 366.8,180.7 367.2,180.3 367.6,180.1 368.0,179.5 368.4,179.0 368.8,178.5 369.2,177.8 369.6,177.3 370.0,176.7 370.4,176.0 370.8,175.6 371.2,174.8 371.6,174.3 372.0,173.6 372.4,173.1 372.8,172.8 373.2,172.4 373.6,172.2 374.0,172.4 374.4,172.9 374.8,173.4 375.2,174.0 375.6,174.6 376.0,175.0 376.4,175.4 376.8,175.9 377.2,176.4 377.6,177.1 378.0,177.5 378.4,177.8 378.8,178.1 379.2,178.2 379.6,178.5 380.0,178.7 380.4,178.7 380.8,179.0 381.2,179.0 381.6,179.1 382.0,179.1 382.4,179.0 382.8,178.9 383.2,178.9 383.6,178.8 384.0,178.6 384.4,178.5 384.8,178.4 385.2,178.2 385.6,178.0 386.0,177.7 386.4,177.3 386.8,177.1 387.2,177.1 387.6,177.0 388.0,177.0 388.4,177.3 388.8,177.6 389.2,178.3 389.6,178.9 390.0,179.6 390.4,180.2 390.8,180.9 391.2,181.6 391.6,182.3 392.0,183.0 392.4,183.7 392.8,184.2 393.2,184.9 393.6,185.4 394.0,185.8 394.4,186.3 394.8,186.5 395.2,186.8 395.6,187.1 396.0,187.3 396.4,187.7 396.8,188.1 397.2,188.3 397.6,188.5 398.0,188.6 398.4,188.7 398.8,188.9 399.2,189.0 399.6,189.1 400.0,189.2 400.4,189.2 400.8,189.2 401.2,189.2 401.6,189.1 402.0,189.0 402.4,188.8 402.8,188.6 403.2,188.5 403.6,188.3 404.0,188.1 404.4,187.9 404.8,187.6 405.2,187.4 405.6,187.1 406.0,186.8 406.4,186.4 406.8,186.1 407.2,185.8 407.6,185.5 408.0,185.2 408.4,185.0 408.8,184.9 409.2,184.5 409.6,184.5 410.0,184.6 410.4,184.8 410.8,185.3 411.2,185.7 411.6,186.3 412.0,186.8 412.4,187.1 412.8,187.5 413.2,187.8 413.6,188.3 414.0,188.7 414.4,189.1 414.8,189.5 415.2,189.8 415.6,190.0 416.0,190.3 416.4,190.5 416.8,190.7 417.2,191.0 417.6,191.1 418.0,191.3 418.4,191.4 418.8,191.6 419.2,191.7 419.6,191.8 420.0,191.9 420.4,191.9 420.8,192.0 421.2,192.0 421.6,192.1 422.0,192.2 422.4,192.4 422.8,192.5 423.2,192.5 423.6,192.5 424.0,192.6 424.4,192.6 424.8,192.7 425.2,192.7 425.6,192.7 426.0,192.7 426.4,192.6 426.8,192.6 427.2,192.6 427.6,192.5 428.0,192.6 428.4,192.7 428.8,192.8 429.2,192.9 429.6,192.8 430.0,192.8 430.4,192.7 430.8,192.6 431.2,192.7 431.6,192.7 432.0,192.7 432.4,192.7 432.8,192.5 433.2,192.4 433.6,192.3 434.0,192.1 434.4,192.1 434.8,192.0 435.2,191.9 435.6,191.9 436.0,191.7 436.4,191.5 436.8,191.3 437.2,191.1 437.6,191.0 438.0,190.9 438.4,190.6 438.8,190.5 439.2,190.3 439.6,190.2 440.0,190.1 440.4,189.8 440.8,189.7 441.2,189.4 441.6,189.2 442.0,189.0 442.4,188.9 442.8,189.2 443.2,189.4 443.6,189.6 444.0,190.0 444.4,190.2 444.8,190.5 445.2,190.6 445.6,190.7 446.0,190.9 446.4,190.9 446.8,191.1 447.2,191.3 447.6,191.2 448.0,191.4 448.4,191.6 448.8,191.7 449.2,191.9 449.6,192.0 450.0,192.0 450.4,192.0 450.8,191.9 451.2,191.9 451.6,191.9 452.0,191.9 452.4,191.9 452.8,192.0 453.2,192.1 453.6,192.2 454.0,192.2 454.4,192.1 454.8,192.1 455.2,192.2 455.6,192.3 456.0,192.4 456.4,192.4 456.8,192.4 457.2,192.3 457.6,192.4 458.0,192.5 458.4,192.6 458.8,192.6 459.2,192.7 459.6,192.6 460.0,192.6 460.4,192.7 460.8,192.8 461.2,192.9 461.6,193.0 462.0,193.1 462.4,193.1 462.8,193.0 463.2,193.0 463.6,193.0 464.0,193.0 464.4,193.1 464.8,193.0 465.2,193.1 465.6,193.3 466.0,193.3 466.4,193.4 466.8,193.4 467.2,193.4 467.6,193.5 468.0,193.5 468.4,193.6 468.8,193.7 469.2,193.8 469.6,193.7 470.0,193.7 470.4,193.6 470.8,193.6 471.2,193.6 471.6,193.7 472.0,193.8 472.4,194.0 472.8,193.9 473.2,193.9 473.6,193.9 474.0,193.9 474.4,194.0 474.8,194.0 475.2,194.0 475.6,194.0 476.0,194.0 476.4,194.1 476.8,194.1 477.2,194.1 477.6,194.1 478.0,194.1 478.4,194.1 478.8,194.1 479.2,194.1 479.6,194.2 480.0,194.2 480.4,194.2 480.8,194.2 481.2,194.1 481.6,194.2 482.0,194.2 482.4,194.3 482.8,194.4 483.2,194.3 483.6,194.3 484.0,194.4 484.4,194.5 484.8,194.5 485.2,194.6 485.6,194.6 486.0,194.4 486.4,194.4 486.8,194.4 487.2,194.4 487.6,194.5 488.0,194.4 488.4,194.3 488.8,194.3 489.2,194.2 489.6,194.3 490.0,194.3 490.4,194.4 490.8,194.5 491.2,194.4 491.6,194.4 492.0,194.4 492.4,194.4 492.8,194.5 493.2,194.5 493.6,194.5 494.0,194.5 494.4,194.5"/>
<path class="c" stroke="#f53100" stroke-width="1.7" d="M50.0,149.7 50.4,149.7 50.8,149.6 51.2,149.5 51.6,149.5 52.0,149.4 52.4,149.5 52.8,149.5 53.2,149.5 53.6,149.4 54.0,149.5 54.4,149.6 54.8,149.7 55.2,149.7 55.6,149.7 56.0,149.6 56.4,149.4 56.8,149.5 57.2,149.4 57.6,149.4 58.0,149.4 58.4,149.5 58.8,149.5 59.2,149.5 59.6,149.5 60.0,149.5 60.4,149.4 60.8,149.4 61.2,149.5 61.6,149.5 62.0,149.6 62.4,149.5 62.8,149.5 63.2,149.4 63.6,149.2 64.0,149.2 64.4,149.2 64.8,149.3 65.2,149.4 65.6,149.3 66.0,149.4 66.4,149.3 66.8,149.3 67.2,149.3 67.6,149.2 68.0,149.2 68.4,149.3 68.8,149.2 69.2,149.2 69.6,149.3 70.0,149.3 70.4,149.5 70.8,149.6 71.2,149.6 71.6,149.5 72.0,149.5 72.4,149.3 72.8,149.2 73.2,149.2 73.6,149.2 74.0,149.3 74.4,149.3 74.8,149.5 75.2,149.4 75.6,149.3 76.0,149.4 76.4,149.2 76.8,149.3 77.2,149.3 77.6,149.3 78.0,149.4 78.4,149.3 78.8,149.3 79.2,149.4 79.6,149.4 80.0,149.4 80.4,149.3 80.8,149.2 81.2,149.2 81.6,149.1 82.0,149.1 82.4,149.2 82.8,149.1 83.2,149.2 83.6,149.2 84.0,149.2 84.4,149.2 84.8,149.0 85.2,148.9 85.6,148.8 86.0,148.9 86.4,148.9 86.8,149.0 87.2,149.0 87.6,149.0 88.0,149.1 88.4,149.0 88.8,149.0 89.2,149.1 89.6,149.1 90.0,149.1 90.4,149.1 90.8,149.0 91.2,149.0 91.6,149.1 92.0,149.0 92.4,149.0 92.8,148.9 93.2,148.9 93.6,148.9 94.0,148.9 94.4,148.9 94.8,148.9 95.2,148.9 95.6,148.9 96.0,148.9 96.4,148.9 96.8,148.9 97.2,148.9 97.6,148.8 98.0,148.8 98.4,148.8 98.8,148.7 99.2,148.7 99.6,148.7 100.0,148.7 100.4,148.8 100.8,148.7 101.2,148.7 101.6,148.7 102.0,148.7 102.4,148.8 102.8,148.8 103.2,148.8 103.6,148.7 104.0,148.6 104.4,148.7 104.8,148.6 105.2,148.5 105.6,148.5 106.0,148.5 106.4,148.5 106.8,148.6 107.2,148.6 107.6,148.7 108.0,148.7 108.4,148.6 108.8,148.7 109.2,148.6 109.6,148.6 110.0,148.6 110.4,148.5 110.8,148.5 111.2,148.5 111.6,148.5 112.0,148.5 112.4,148.5 112.8,148.5 113.2,148.5 113.6,148.5 114.0,148.4 114.4,148.4 114.8,148.3 115.2,148.5 115.6,148.4 116.0,148.4 116.4,148.5 116.8,148.3 117.2,148.3 117.6,148.4 118.0,148.2 118.4,148.3 118.8,148.2 119.2,148.1 119.6,148.0 120.0,147.9 120.4,147.8 120.8,147.8 121.2,147.9 121.6,147.9 122.0,147.9 122.4,147.7 122.8,147.5 123.2,147.2 123.6,147.0 124.0,146.8 124.4,146.6 124.8,146.5 125.2,146.3 125.6,146.0 126.0,145.5 126.4,145.0 126.8,144.6 127.2,144.2 127.6,143.8 128.0,143.4 128.4,142.9 128.8,142.6 129.2,142.5 129.6,142.6 130.0,143.0 130.4,143.5 130.8,144.1 131.2,144.5 131.6,145.1 132.0,145.6 132.4,145.9 132.8,146.2 133.2,146.4 133.6,146.6 134.0,146.9 134.4,147.0 134.8,147.3 135.2,147.4 135.6,147.5 136.0,147.6 136.4,147.6 136.8,147.7 137.2,147.8 137.6,147.8 138.0,147.8 138.4,147.8 138.8,148.0 139.2,148.0 139.6,148.1 140.0,148.1 140.4,148.0 140.8,148.0 141.2,148.0 141.6,148.1 142.0,148.2 142.4,148.1 142.8,148.2 143.2,148.3 143.6,148.3 144.0,148.3 144.4,148.3 144.8,148.1 145.2,148.1 145.6,148.0 146.0,148.2 146.4,148.2 146.8,148.3 147.2,148.4 147.6,148.4 148.0,148.4 148.4,148.4 148.8,148.4 149.2,148.3 149.6,148.4 150.0,148.2 150.4,148.1 150.8,148.1 151.2,148.0 151.6,148.1 152.0,148.1 152.4,148.0 152.8,148.2 153.2,148.3 153.6,148.3 154.0,148.4 154.4,148.2 154.8,148.2 155.2,148.3 155.6,148.3 156.0,148.2 156.4,148.2 156.8,148.2 157.2,148.0 157.6,148.1 158.0,148.0 158.4,148.1 158.8,148.1 159.2,148.1 159.6,148.1 160.0,148.1 160.4,147.9 160.8,147.9 161.2,147.8 161.6,147.8 162.0,147.9 162.4,147.9 162.8,147.8 163.2,147.9 163.6,148.0 164.0,147.9 164.4,147.9 164.8,147.8 165.2,147.7 165.6,147.7 166.0,147.6 166.4,147.5 166.8,147.3 167.2,147.1 167.6,147.0 168.0,147.0 168.4,146.9 168.8,146.9 169.2,147.0 169.6,146.8 170.0,146.7 170.4,146.4 170.8,146.3 171.2,146.2 171.6,146.0 172.0,145.8 172.4,145.5 172.8,145.3 173.2,145.2 173.6,145.0 174.0,144.7 174.4,144.4 174.8,144.1 175.2,144.1 175.6,144.1 176.0,144.4 176.4,144.6 176.8,144.9 177.2,145.2 177.6,145.5 178.0,145.9 178.4,146.2 178.8,146.5 179.2,146.6 179.6,146.6 180.0,146.7 180.4,146.9 180.8,147.1 181.2,147.3 181.6,147.5 182.0,147.4 182.4,147.5 182.8,147.7 183.2,147.7 183.6,147.7 184.0,147.7 184.4,147.6 184.8,147.7 185.2,147.8 185.6,147.8 186.0,147.7 186.4,147.7 186.8,147.8 187.2,147.9 187.6,147.9 188.0,147.9 188.4,147.6 188.8,147.6 189.2,147.6 189.6,147.6 190.0,147.7 190.4,147.7 190.8,147.7 191.2,147.8 191.6,147.8 192.0,147.6 192.4,147.5 192.8,147.5 193.2,147.4 193.6,147.5 194.0,147.6 194.4,147.5 194.8,147.4 195.2,147.4 195.6,147.2 196.0,147.2 196.4,147.1 196.8,147.1 197.2,147.0 197.6,146.9 198.0,146.8 198.4,146.6 198.8,146.4 199.2,146.2 199.6,146.1 200.0,145.8 200.4,145.7 200.8,145.4 201.2,145.1 201.6,144.8 202.0,144.5 202.4,144.1 202.8,143.8 203.2,143.4 203.6,142.9 204.0,142.7 204.4,142.5 204.8,142.5 205.2,142.8 205.6,143.2 206.0,143.6 206.4,143.9 206.8,144.3 207.2,144.6 207.6,145.1 208.0,145.6 208.4,146.0 208.8,146.2 209.2,146.3 209.6,146.4 210.0,146.6 210.4,146.8 210.8,146.9 211.2,147.1 211.6,147.2 212.0,147.3 212.4,147.5 212.8,147.5 213.2,147.5 213.6,147.5 214.0,147.5 214.4,147.6 214.8,147.8 215.2,147.8 215.6,148.0 216.0,147.9 216.4,147.9 216.8,147.9 217.2,147.9 217.6,148.0 218.0,148.0 218.4,147.9 218.8,147.9 219.2,147.8 219.6,147.8 220.0,147.8 220.4,147.9 220.8,148.0 221.2,148.1 221.6,148.2 222.0,148.2 222.4,148.0 222.8,148.0 223.2,148.0 223.6,147.9 224.0,147.9 224.4,147.9 224.8,147.9 225.2,148.0 225.6,148.1 226.0,148.1 226.4,148.1 226.8,148.1 227.2,147.9 227.6,148.0 228.0,147.8 228.4,147.8 228.8,147.9 229.2,147.9 229.6,147.9 230.0,147.8 230.4,147.9 230.8,147.8 231.2,147.7 231.6,147.8 232.0,147.7 232.4,147.7 232.8,147.6 233.2,147.5 233.6,147.5 234.0,147.6 234.4,147.5 234.8,147.6 235.2,147.6 235.6,147.4 236.0,147.5 236.4,147.6 236.8,147.6 237.2,147.6 237.6,147.5 238.0,147.4 238.4,147.3 238.8,147.3 239.2,147.3 239.6,147.4 240.0,147.4 240.4,147.4 240.8,147.3 241.2,147.3 241.6,147.2 242.0,147.2 242.4,147.3 242.8,147.3 243.2,147.4 243.6,147.2 244.0,147.2 244.4,147.2 244.8,147.1 245.2,147.2 245.6,147.2 246.0,147.1 246.4,147.2 246.8,147.2 247.2,147.0 247.6,147.2 248.0,147.1 248.4,147.0 248.8,147.1 249.2,146.9 249.6,147.0 250.0,146.9 250.4,146.9 250.8,146.9 251.2,146.8 251.6,146.9 252.0,146.8 252.4,146.9 252.8,146.8 253.2,146.7 253.6,146.7 254.0,146.6 254.4,146.5 254.8,146.6 255.2,146.5 255.6,146.6 256.0,146.7 256.4,146.5 256.8,146.4 257.2,146.3 257.6,146.2 258.0,146.2 258.4,146.2 258.8,146.3 259.2,146.1 259.6,146.0 260.0,146.0 260.4,146.0 260.8,146.1 261.2,146.0 261.6,146.0 262.0,145.8 262.4,145.8 262.8,145.7 263.2,145.6 263.6,145.5 264.0,145.3 264.4,145.3 264.8,145.4 265.2,145.2 265.6,145.1 266.0,144.8 266.4,144.6 266.8,144.5 267.2,144.4 267.6,144.2 268.0,144.1 268.4,143.8 268.8,143.5 269.2,143.2 269.6,142.8 270.0,142.4 270.4,142.0 270.8,141.8 271.2,141.4 271.6,141.0 272.0,140.5 272.4,139.8 272.8,139.1 273.2,138.4 273.6,137.5 274.0,136.6 274.4,135.6 274.8,134.2 275.2,132.8 275.6,131.1 276.0,129.0 276.4,126.6 276.8,123.8 277.2,120.2 277.6,116.0 278.0,110.9 278.4,104.8 278.8,97.5 279.2,88.7 279.6,78.3 280.0,66.5 280.4,54.3 280.8,43.0 281.2,34.9 281.6,31.9 282.0,34.9 282.4,43.1 282.8,54.3 283.2,66.5 283.6,78.1 284.0,88.4 284.4,97.3 284.8,104.8 285.2,111.1 285.6,116.2 286.0,120.4 286.4,123.8 286.8,126.5 287.2,128.9 287.6,130.8 288.0,132.6 288.4,134.1 288.8,135.3 289.2,136.4 289.6,137.2 290.0,137.8 290.4,138.2 290.8,138.6 291.2,138.7 291.6,138.8 292.0,138.9 292.4,138.8 292.8,138.9 293.2,138.9 293.6,139.0 294.0,139.3 294.4,139.7 294.8,140.2 295.2,140.9 295.6,141.6 296.0,142.2 296.4,142.9 296.8,143.4 297.2,143.9 297.6,144.3 298.0,144.6 298.4,144.8 298.8,144.9 299.2,145.1 299.6,145.3 300.0,145.4 300.4,145.6 300.8,145.6 301.2,145.7 301.6,145.8 302.0,145.9 302.4,145.9 302.8,145.9 303.2,146.0 303.6,146.1 304.0,146.2 304.4,146.3 304.8,146.3 305.2,146.2 305.6,146.3 306.0,146.4 306.4,146.5 306.8,146.5 307.2,146.5 307.6,146.4 308.0,146.4 308.4,146.5 308.8,146.6 309.2,146.6 309.6,146.7 310.0,146.8 310.4,146.8 310.8,146.9 311.2,147.0 311.6,147.0 312.0,147.0 312.4,147.1 312.8,146.9 313.2,146.9 313.6,146.9 314.0,147.0 314.4,147.0 314.8,147.0 315.2,147.1 315.6,147.1 316.0,147.2 316.4,147.2 316.8,147.1 317.2,147.1 317.6,147.1 318.0,147.1 318.4,147.3 318.8,147.4 319.2,147.4 319.6,147.4 320.0,147.4 320.4,147.3 320.8,147.2 321.2,147.3 321.6,147.2 322.0,147.1 322.4,147.1 322.8,147.0 323.2,147.1 323.6,147.2 324.0,147.3 324.4,147.3 324.8,147.3 325.2,147.2 325.6,147.2 326.0,147.2 326.4,147.2 326.8,147.2 327.2,147.1 327.6,147.2 328.0,147.2 328.4,147.2 328.8,147.3 329.2,147.2 329.6,147.2 330.0,147.2 330.4,147.2 330.8,147.1 331.2,147.2 331.6,147.2 332.0,147.3 332.4,147.3 332.8,147.3 333.2,147.3 333.6,147.2 334.0,147.2 334.4,147.2 334.8,147.1 335.2,147.1 335.6,147.0 336.0,147.0 336.4,147.0 336.8,147.0 337.2,146.9 337.6,146.9 338.0,147.0 338.4,146.9 338.8,147.0 339.2,147.1 339.6,147.0 340.0,147.1 340.4,147.1 340.8,147.1 341.2,147.1 341.6,147.3 342.0,147.2 342.4,147.3 342.8,147.3 343.2,147.3 343.6,147.4 344.0,147.5 344.4,147.6 344.8,147.6 345.2,147.6 345.6,147.5 346.0,147.6 346.4,147.6 346.8,147.5 347.2,147.5 347.6,147.5 348.0,147.4 348.4,147.5 348.8,147.6 349.2,147.4 349.6,147.6 350.0,147.7 350.4,147.6 350.8,147.7 351.2,147.6 351.6,147.5 352.0,147.5 352.4,147.5 352.8,147.5 353.2,147.6 353.6,147.5 354.0,147.5 354.4,147.4 354.8,147.4 355.2,147.5 355.6,147.6 356.0,147.6 356.4,147.6 356.8,147.6 357.2,147.4 357.6,147.5 358.0,147.5 358.4,147.5 358.8,147.6 359.2,147.7 359.6,147.6 360.0,147.6 360.4,147.6 360.8,147.5 361.2,147.5 361.6,147.5 362.0,147.6 362.4,147.6 362.8,147.6 363.2,147.6 363.6,147.5 364.0,147.5 364.4,147.5 364.8,147.5 365.2,147.6 365.6,147.5 366.0,147.5 366.4,147.6 366.8,147.5 367.2,147.5 367.6,147.5 368.0,147.4 368.4,147.5 368.8,147.4 369.2,147.4 369.6,147.4 370.0,147.3 370.4,147.4 370.8,147.3 371.2,147.4 371.6,147.5 372.0,147.4 372.4,147.5 372.8,147.4 373.2,147.3 373.6,147.3 374.0,147.3 374.4,147.3 374.8,147.5 375.2,147.4 375.6,147.4 376.0,147.4 376.4,147.3 376.8,147.3 377.2,147.2 377.6,147.3 378.0,147.3 378.4,147.2 378.8,147.2 379.2,147.1 379.6,147.0 380.0,147.2 380.4,147.3 380.8,147.2 381.2,147.2 381.6,147.2 382.0,147.2 382.4,147.3 382.8,147.3 383.2,147.2 383.6,147.2 384.0,147.2 384.4,147.1 384.8,147.1 385.2,147.1 385.6,147.1 386.0,147.2 386.4,147.2 386.8,147.2 387.2,147.1 387.6,146.9 388.0,146.9 388.4,146.9 388.8,146.9 389.2,147.0 389.6,146.9 390.0,146.8 390.4,146.8 390.8,146.7 391.2,146.8 391.6,146.8 392.0,146.7 392.4,146.6 392.8,146.5 393.2,146.5 393.6,146.6 394.0,146.6 394.4,146.6 394.8,146.7 395.2,146.5 395.6,146.3 396.0,146.3 396.4,146.1 396.8,146.1 397.2,146.1 397.6,146.1 398.0,146.1 398.4,145.9 398.8,145.9 399.2,145.7 399.6,145.5 400.0,145.5 400.4,145.4 400.8,145.4 401.2,145.3 401.6,145.1 402.0,144.9 402.4,144.6 402.8,144.2 403.2,144.0 403.6,143.5 404.0,143.2 404.4,142.8 404.8,142.1 405.2,141.2 405.6,140.0 406.0,138.5 406.4,136.5 406.8,134.1 407.2,131.0 407.6,127.0 408.0,122.3 408.4,116.7 408.8,110.1 409.2,102.9 409.6,95.0 410.0,86.9 410.4,79.0 410.8,71.7 411.2,65.8 411.6,61.9 412.0,60.5 412.4,61.8 412.8,65.7 413.2,71.6 413.6,78.9 414.0,86.9 414.4,94.9 414.8,102.7 415.2,110.0 415.6,116.6 416.0,122.4 416.4,127.2 416.8,131.0 417.2,134.2 417.6,136.6 418.0,138.5 418.4,140.0 418.8,141.1 419.2,142.0 419.6,142.6 420.0,143.1 420.4,143.5 420.8,143.7 421.2,144.0 421.6,144.4 422.0,144.7 422.4,145.0 422.8,145.1 423.2,145.1 423.6,145.2 424.0,145.2 424.4,145.3 424.8,145.4 425.2,145.3 425.6,145.4 426.0,145.3 426.4,145.3 426.8,145.1 427.2,144.9 427.6,144.7 428.0,144.5 428.4,144.4 428.8,144.3 429.2,144.1 429.6,144.1 430.0,144.2 430.4,144.4 430.8,144.7 431.2,144.9 431.6,145.1 432.0,145.6 432.4,145.9 432.8,146.0 433.2,146.3 433.6,146.5 434.0,146.4 434.4,146.6 434.8,146.6 435.2,146.6 435.6,146.7 436.0,146.7 436.4,146.7 436.8,146.6 437.2,146.6 437.6,146.7 438.0,146.8 438.4,146.9 438.8,146.9 439.2,146.9 439.6,147.0 440.0,147.0 440.4,147.0 440.8,147.0 441.2,147.0 441.6,147.0 442.0,147.0 442.4,146.9 442.8,147.0 443.2,146.9 443.6,147.0 444.0,147.1 444.4,147.0 444.8,147.1 445.2,147.0 445.6,147.0 446.0,147.1 446.4,147.1 446.8,147.2 447.2,147.2 447.6,147.2 448.0,147.2 448.4,147.3 448.8,147.3 449.2,147.3 449.6,147.3 450.0,147.4 450.4,147.2 450.8,147.2 451.2,147.1 451.6,147.0 452.0,147.2 452.4,147.2 452.8,147.4 453.2,147.5 453.6,147.4 454.0,147.4 454.4,147.3 454.8,147.3 455.2,147.3 455.6,147.4 456.0,147.5 456.4,147.5 456.8,147.5 457.2,147.4 457.6,147.4 458.0,147.4 458.4,147.4 458.8,147.4 459.2,147.5 459.6,147.5 460.0,147.5 460.4,147.5 460.8,147.6 461.2,147.5 461.6,147.6 462.0,147.6 462.4,147.6 462.8,147.7 463.2,147.7 463.6,147.6 464.0,147.7 464.4,147.7 464.8,147.6 465.2,147.7 465.6,147.5 466.0,147.4 466.4,147.4 466.8,147.5 467.2,147.5 467.6,147.5 468.0,147.6 468.4,147.5 468.8,147.6 469.2,147.6 469.6,147.5 470.0,147.5 470.4,147.6 470.8,147.5 471.2,147.5 471.6,147.6 472.0,147.6 472.4,147.6 472.8,147.6 473.2,147.6 473.6,147.6 474.0,147.6 474.4,147.5 474.8,147.4 475.2,147.4 475.6,147.4 476.0,147.5 476.4,147.5 476.8,147.6 477.2,147.6 477.6,147.6 478.0,147.7 478.4,147.6 478.8,147.5 479.2,147.5 479.6,147.6 480.0,147.6 480.4,147.7 480.8,147.7 481.2,147.6 481.6,147.6 482.0,147.6 482.4,147.5 482.8,147.4 483.2,147.4 483.6,147.5 484.0,147.6 484.4,147.6 484.8,147.6 485.2,147.5 485.6,147.5 486.0,147.4 486.4,147.3 486.8,147.4 487.2,147.4 487.6,147.5 488.0,147.6 488.4,147.4 488.8,147.5 489.2,147.5 489.6,147.4 490.0,147.6 490.4,147.5 490.8,147.5 491.2,147.5 491.6,147.5 492.0,147.5 492.4,147.5 492.8,147.4 493.2,147.4 493.6,147.4 494.0,147.4 494.4,147.5"/>
<!-- frame -->
<rect x="27.0" y="6.7" width="512.4" height="255.6" fill="none" stroke="#000" stroke-width="2.3"/>
<g stroke="#000" stroke-width="2.3"><line x1="27.0" y1="262.3" x2="27.0" y2="271.6"/><line x1="73.6" y1="262.3" x2="73.6" y2="271.6"/><line x1="120.2" y1="262.3" x2="120.2" y2="271.6"/><line x1="166.7" y1="262.3" x2="166.7" y2="271.6"/><line x1="213.3" y1="262.3" x2="213.3" y2="271.6"/><line x1="259.9" y1="262.3" x2="259.9" y2="271.6"/><line x1="306.5" y1="262.3" x2="306.5" y2="271.6"/><line x1="353.1" y1="262.3" x2="353.1" y2="271.6"/><line x1="399.7" y1="262.3" x2="399.7" y2="271.6"/><line x1="446.2" y1="262.3" x2="446.2" y2="271.6"/><line x1="492.8" y1="262.3" x2="492.8" y2="271.6"/><line x1="539.4" y1="262.3" x2="539.4" y2="271.6"/></g>
<g font-size="14.4" text-anchor="middle" fill="#000" stroke="#000" stroke-width="0.3"><text x="27.0" y="295.4" textLength="16.5" lengthAdjust="spacingAndGlyphs">24</text><text x="73.6" y="295.4" textLength="16.5" lengthAdjust="spacingAndGlyphs">26</text><text x="120.2" y="295.4" textLength="16.5" lengthAdjust="spacingAndGlyphs">28</text><text x="166.7" y="295.4" textLength="16.5" lengthAdjust="spacingAndGlyphs">30</text><text x="213.3" y="295.4" textLength="16.5" lengthAdjust="spacingAndGlyphs">32</text><text x="259.9" y="295.4" textLength="16.5" lengthAdjust="spacingAndGlyphs">34</text><text x="306.5" y="295.4" textLength="16.5" lengthAdjust="spacingAndGlyphs">36</text><text x="353.1" y="295.4" textLength="16.5" lengthAdjust="spacingAndGlyphs">38</text><text x="399.7" y="295.4" textLength="16.5" lengthAdjust="spacingAndGlyphs">40</text><text x="446.2" y="295.4" textLength="16.5" lengthAdjust="spacingAndGlyphs">42</text><text x="492.8" y="295.4" textLength="16.5" lengthAdjust="spacingAndGlyphs">44</text><text x="539.4" y="295.4" textLength="16.5" lengthAdjust="spacingAndGlyphs">46</text></g>
<!-- markers -->
<path d="M129.6,133.2 L132.1,135.7 L129.6,138.2 L127.1,135.7Z" fill="#fff" stroke="#000" stroke-width="2.1"/><path d="M174.8,135.1 L177.3,137.6 L174.8,140.1 L172.3,137.6Z" fill="#fff" stroke="#000" stroke-width="2.1"/><path d="M204.9,134.1 L207.4,136.6 L204.9,139.1 L202.4,136.6Z" fill="#fff" stroke="#000" stroke-width="2.1"/><path d="M293.6,135.5 L296.1,138 L293.6,140.5 L291.1,138Z" fill="#fff" stroke="#000" stroke-width="2.1"/><path d="M430,137.2 L432.5,139.7 L430,142.2 L427.5,139.7Z" fill="#fff" stroke="#000" stroke-width="2.1"/><rect x="277.95" y="22.4" width="7.7" height="7.2" fill="#000"/><rect x="408.25" y="50" width="7.3" height="7.6" fill="#000"/><path d="M235.3,168.05 L239.15,171.9 L235.3,175.75 L231.45,171.9Z" fill="#000"/><circle cx="248.2" cy="156.9" r="3.9" fill="#000"/><rect x="265.9" y="177.1" width="4.4" height="4.4" fill="#fff" stroke="#000" stroke-width="2.1"/><path d="M275.5,171.65 L283.3,171.65 L279.4,178.05Z" fill="#000"/><path d="M302.1,185.7 L309.9,185.7 L306,179.3Z" fill="#000"/><rect x="320" y="181.8" width="4.4" height="4.4" fill="#fff" stroke="#000" stroke-width="2.1"/><rect x="328.3" y="181.2" width="4.4" height="4.4" fill="#fff" stroke="#000" stroke-width="2.1"/><rect x="349.5" y="179" width="4.4" height="4.4" fill="#fff" stroke="#000" stroke-width="2.1"/><path d="M361.4,172.55 L365.25,176.4 L361.4,180.25 L357.55,176.4Z" fill="#000"/><circle cx="373.9" cy="166" r="3.9" fill="#000"/><rect x="387.3" y="168.7" width="4.4" height="4.4" fill="#fff" stroke="#000" stroke-width="2.1"/><path d="M405.5,175.6 L413.3,175.6 L409.4,182Z" fill="#000"/><path d="M439.6,185.5 L447.4,185.5 L443.5,179.1Z" fill="#000"/><rect x="458.4" y="182.6" width="4.4" height="4.4" fill="#fff" stroke="#000" stroke-width="2.1"/>
<!-- legend -->
<circle cx="35.4" cy="19" r="4.3" fill="#000"/><path d="M109.1,14.4 L113.7,19 L109.1,23.6 L104.5,19Z" fill="#000"/><path d="M168.9,15.9 L171.95,18.95 L168.9,22 L165.85,18.95Z" fill="#fff" stroke="#000" stroke-width="1.8"/>
<path d="M30.7,44.6 L40.1,44.6 L35.4,36.8Z" fill="#000"/><path d="M95.9,36.8 L104.9,36.8 L100.4,44.6Z" fill="#000"/><rect x="136.55" y="37.35" width="6.1" height="6.1" fill="#fff" stroke="#000" stroke-width="2.1"/>
<rect x="31.1" y="57.5" width="8.6" height="9.0" fill="#000"/>
<g font-size="12" fill="#000" stroke="#000" stroke-width="0.35">
<text x="41.4" y="23.2" textLength="57.8" lengthAdjust="spacingAndGlyphs">(Zr,Hf,Ti)C</text>
<text x="115.1" y="23.2" textLength="44.3" lengthAdjust="spacingAndGlyphs">(Zr,Hf)C</text>
<text x="174.6" y="23.2" textLength="21.2" lengthAdjust="spacingAndGlyphs">ZrO</text>
<text x="196.2" y="26.3" font-size="7.5">2</text>
<text x="41.4" y="44.6" textLength="49.3" lengthAdjust="spacingAndGlyphs">(Ti,Mo)C</text>
<text x="106.3" y="44.6" textLength="23.6" lengthAdjust="spacingAndGlyphs">NbC</text>
<text x="145.6" y="44.6" textLength="18.8" lengthAdjust="spacingAndGlyphs">Mo</text>
<text x="164.8" y="47.8" font-size="7.5">2</text>
<text x="169.6" y="44.6" textLength="7.0" lengthAdjust="spacingAndGlyphs">C</text>
<text x="41.4" y="66.7" textLength="101.2" lengthAdjust="spacingAndGlyphs">(Zr,Hf,Ti,Nb,Mo)C</text>
<text x="270.5" y="20.2" font-size="11" textLength="24.5" lengthAdjust="spacingAndGlyphs">(111)</text>
<text x="398.7" y="46.7" font-size="11" textLength="24.3" lengthAdjust="spacingAndGlyphs">(200)</text>
</g>
<g font-size="10.4" class="b" fill="#000">
<text x="30.0" y="144.2" textLength="85.5" lengthAdjust="spacingAndGlyphs">sintered ceramics</text>
<text x="29.8" y="188.8" textLength="89.1" lengthAdjust="spacingAndGlyphs">ball milling 20 min</text>
</g>
<g font-size="11.6" class="b">
<text x="30.1" y="249.1" fill="#1292fa" textLength="20.3" lengthAdjust="spacingAndGlyphs">-HfC</text>
<text x="53.5" y="249.1" fill="#0a2fa0" textLength="17.5" lengthAdjust="spacingAndGlyphs">-Mo</text>
<text x="71.3" y="251.5" fill="#0a2fa0" font-size="7.5">2</text>
<text x="75.7" y="249.1" fill="#0a2fa0" textLength="7.3" lengthAdjust="spacingAndGlyphs">C</text>
<text x="86.1" y="249.1" fill="#16763a" textLength="22.9" lengthAdjust="spacingAndGlyphs">-NbC</text>
<text x="112.8" y="249.1" fill="#f98220" textLength="17.8" lengthAdjust="spacingAndGlyphs">-TiC</text>
<text x="134.4" y="249.1" fill="#ff0a14" textLength="18.6" lengthAdjust="spacingAndGlyphs">-ZrC</text>
</g>
<text x="230.3" y="317.2" font-size="16" class="b" textLength="103.6" lengthAdjust="spacingAndGlyphs">2 theta, degr.</text>
<text transform="translate(17.2,188.1) rotate(-90)" font-size="16.3" class="b" textLength="104.3" lengthAdjust="spacingAndGlyphs">Intensity, a.u.</text>
</svg>
</body></html>
